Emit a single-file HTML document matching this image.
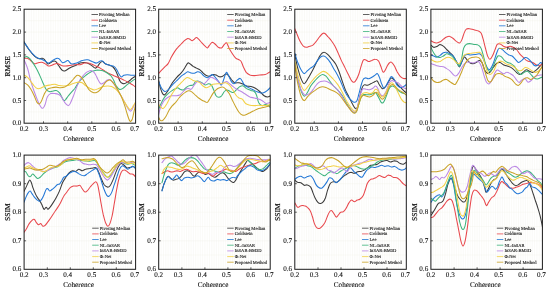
<!DOCTYPE html><html><head><meta charset="utf-8"><title>Figure</title><style>html,body{margin:0;padding:0;background:#fff}svg{display:block}text{font-family:"Liberation Serif",serif;fill:#111;stroke:#111;stroke-width:0.1px;text-rendering:geometricPrecision}</style></head><body>
<svg width="550" height="291" viewBox="0 0 550 291">
<rect width="550" height="291" fill="#fff"/>
<g><clipPath id="cp00"><rect x="24.1" y="9.2" width="111.5" height="114.0"/></clipPath><path d="M26.6,9.2 V123.3 M29.0,9.2 V123.3 M31.4,9.2 V123.3 M33.8,9.2 V123.3 M36.2,9.2 V123.3 M38.7,9.2 V123.3 M41.1,9.2 V123.3 M43.5,9.2 V123.3 M45.9,9.2 V123.3 M48.3,9.2 V123.3 M50.8,9.2 V123.3 M53.2,9.2 V123.3 M55.6,9.2 V123.3 M58.0,9.2 V123.3 M60.4,9.2 V123.3 M62.8,9.2 V123.3 M65.3,9.2 V123.3 M67.7,9.2 V123.3 M70.1,9.2 V123.3 M72.5,9.2 V123.3 M74.9,9.2 V123.3 M77.3,9.2 V123.3 M79.8,9.2 V123.3 M82.2,9.2 V123.3 M84.6,9.2 V123.3 M87.0,9.2 V123.3 M89.4,9.2 V123.3 M91.8,9.2 V123.3 M94.3,9.2 V123.3 M96.7,9.2 V123.3 M99.1,9.2 V123.3 M101.5,9.2 V123.3 M103.9,9.2 V123.3 M106.3,9.2 V123.3 M108.8,9.2 V123.3 M111.2,9.2 V123.3 M113.6,9.2 V123.3 M116.0,9.2 V123.3 M118.4,9.2 V123.3 M120.8,9.2 V123.3 M123.3,9.2 V123.3 M125.7,9.2 V123.3 M128.1,9.2 V123.3 M130.5,9.2 V123.3 M132.9,9.2 V123.3 M24.1,20.7 H135.6 M24.1,32.1 H135.6 M24.1,43.5 H135.6 M24.1,54.9 H135.6 M24.1,66.3 H135.6 M24.1,77.7 H135.6 M24.1,89.1 H135.6 M24.1,100.5 H135.6 M24.1,111.9 H135.6 " stroke="#f3f2ea" stroke-width="0.4" fill="none"/><g clip-path="url(#cp00)" fill="none" stroke-width="1.05" stroke-linejoin="round" stroke-linecap="round"><path d="M23.9,41.9 C24.8,43.2 27.6,47.8 29.4,50.2 C31.2,52.7 33.4,55.0 34.8,56.4 C36.3,57.7 37.1,58.2 38.3,58.5 C39.5,58.9 41.1,58.2 42.1,58.3 C43.1,58.5 43.4,58.5 44.3,59.4 C45.2,60.3 46.7,63.1 47.6,63.8 C48.5,64.4 48.9,63.7 49.8,63.3 C50.7,62.9 52.1,61.6 53.1,61.3 C54.1,61.0 55.0,60.9 55.9,61.6 C56.8,62.3 57.6,64.1 58.6,65.5 C59.6,66.9 60.9,69.1 61.9,70.0 C62.9,70.9 63.3,71.4 64.7,71.0 C66.1,70.6 68.4,68.6 70.2,67.7 C72.0,66.8 74.0,66.2 75.6,65.5 C77.3,64.7 78.5,63.6 80.0,63.1 C81.5,62.7 82.9,62.5 84.4,62.6 C85.8,62.7 87.4,63.0 88.8,63.7 C90.2,64.3 91.6,65.7 92.7,66.4 C93.7,67.1 94.6,68.1 95.4,68.1 C96.2,68.1 96.9,67.2 97.6,66.4 C98.3,65.6 99.0,64.0 99.8,63.1 C100.6,62.3 101.5,61.4 102.5,61.5 C103.4,61.6 104.1,63.0 105.3,63.7 C106.5,64.3 108.4,64.8 109.7,65.3 C110.9,65.9 111.9,66.1 113.0,67.0 C114.0,67.9 114.9,69.3 115.7,70.8 C116.5,72.3 117.2,74.1 117.9,75.8 C118.6,77.5 119.2,79.8 119.9,81.0 C120.6,82.3 121.3,82.8 122.1,83.2 C122.9,83.6 123.6,84.0 124.7,83.6 C125.9,83.3 127.8,81.9 129.1,81.0 C130.4,80.1 131.2,79.0 132.4,78.2 C133.5,77.3 135.5,76.4 136.1,76.0" stroke="#3a3a3a"/><path d="M23.9,58.3 C24.5,58.3 26.2,58.0 27.3,58.3 C28.4,58.7 29.4,59.6 30.6,60.5 C31.8,61.4 33.1,63.4 34.4,63.8 C35.7,64.1 36.9,62.9 38.3,62.7 C39.7,62.5 41.4,62.1 42.7,62.4 C44.0,62.7 45.0,63.8 46.0,64.4 C47.0,65.0 47.6,65.9 48.7,66.0 C49.8,66.0 51.1,65.3 52.5,64.9 C53.9,64.5 55.5,63.4 57.0,63.5 C58.5,63.6 59.9,65.0 61.4,65.5 C62.8,65.9 64.1,66.1 65.8,66.0 C67.4,66.0 69.4,65.5 71.3,65.2 C73.1,65.0 75.3,64.5 76.7,64.4 C78.2,64.3 78.7,65.0 80.0,64.8 C81.3,64.6 83.0,63.4 84.4,63.1 C85.7,62.9 87.0,62.9 88.2,63.1 C89.5,63.3 90.7,63.7 92.1,64.2 C93.5,64.8 95.0,65.7 96.5,66.4 C97.9,67.1 99.4,67.8 100.9,68.6 C102.4,69.5 103.8,70.5 105.3,71.4 C106.8,72.2 108.2,73.0 109.7,73.8 C111.1,74.5 112.6,75.1 114.0,75.8 C115.5,76.4 116.6,76.8 118.2,77.5 C119.8,78.2 121.8,79.1 123.6,79.9 C125.5,80.8 127.6,82.0 129.1,82.8 C130.5,83.6 131.2,83.9 132.4,84.7 C133.5,85.5 135.5,87.1 136.1,87.6" stroke="#e8474c"/><path d="M23.9,41.9 C24.9,43.2 27.6,47.7 29.5,50.0 C31.3,52.4 33.5,54.8 35.0,56.1 C36.5,57.5 37.1,57.8 38.3,58.3 C39.5,58.9 40.8,58.9 42.1,59.4 C43.4,60.0 44.9,61.0 46.0,61.6 C47.1,62.2 47.6,63.2 48.7,63.0 C49.8,62.9 51.2,61.3 52.6,60.5 C53.9,59.7 55.9,58.6 57.0,58.3 C58.1,58.1 58.2,58.1 59.2,58.9 C60.1,59.6 61.4,62.2 62.5,62.7 C63.6,63.1 64.8,62.0 65.8,61.6 C66.7,61.2 67.0,60.1 68.0,60.5 C68.9,60.9 70.0,63.3 71.3,63.8 C72.5,64.2 74.2,63.7 75.6,63.3 C77.1,62.9 78.7,62.0 80.0,61.5 C81.3,60.9 82.0,60.4 83.3,60.2 C84.5,59.9 86.2,59.6 87.6,59.8 C89.1,60.0 90.6,60.9 92.1,61.5 C93.6,62.0 95.1,63.2 96.5,63.1 C97.8,63.0 99.3,61.3 100.3,61.0 C101.3,60.6 101.6,60.5 102.5,61.0 C103.3,61.4 104.1,62.9 105.3,63.7 C106.5,64.4 108.2,64.9 109.7,65.3 C111.1,65.8 112.9,65.7 114.0,66.4 C115.2,67.1 116.0,68.4 116.8,69.7 C117.6,71.0 118.3,72.9 119.0,74.1 C119.7,75.3 120.4,76.7 121.2,76.9 C122.0,77.1 122.9,75.6 123.9,75.2 C124.9,74.8 126.0,74.7 127.2,74.7 C128.5,74.7 130.2,75.1 131.6,75.2 C133.1,75.3 135.3,75.2 136.0,75.2" stroke="#2277d6"/><path d="M24.1,57.6 C24.5,57.5 25.6,56.4 26.6,56.5 C27.5,56.7 28.7,57.6 29.8,58.7 C30.9,59.8 32.0,61.5 33.1,63.1 C34.2,64.7 35.3,66.5 36.4,68.5 C37.5,70.5 38.5,72.7 39.6,75.1 C40.7,77.5 41.8,80.3 42.9,82.7 C44.0,85.1 45.0,88.0 46.2,89.5 C47.3,91.0 48.7,91.4 49.9,91.7 C51.1,91.9 52.1,91.2 53.2,91.0 C54.3,90.8 55.3,90.2 56.4,90.6 C57.5,90.9 58.8,92.1 59.7,93.2 C60.6,94.3 61.2,96.1 61.9,97.3 C62.5,98.5 63.1,100.0 63.6,100.4 C64.2,100.8 64.6,100.5 65.4,99.8 C66.2,99.0 67.3,97.2 68.4,95.8 C69.5,94.5 70.8,92.9 71.9,91.7 C73.0,90.4 73.8,89.8 75.0,88.2 C76.1,86.6 77.7,83.7 78.9,82.1 C80.1,80.4 81.0,79.5 82.2,78.4 C83.4,77.2 84.8,76.2 86.0,75.2 C87.3,74.2 88.5,73.2 89.9,72.5 C91.3,71.7 93.0,71.2 94.3,70.8 C95.6,70.4 96.3,70.1 97.6,70.0 C98.9,70.0 100.5,70.1 102.0,70.5 C103.4,70.9 105.0,71.7 106.4,72.5 C107.8,73.3 109.3,74.5 110.2,75.2 C111.1,76.0 111.2,76.1 111.8,77.0 C112.4,77.9 113.1,79.1 113.8,80.5 C114.5,82.0 115.1,84.1 116.0,85.6 C116.9,87.0 118.2,88.8 119.3,89.3 C120.4,89.8 121.3,89.3 122.5,88.6 C123.8,87.9 125.5,86.1 126.9,84.9 C128.4,83.7 129.7,82.7 131.3,81.6 C132.8,80.5 135.3,78.9 136.1,78.4" stroke="#3cb37c"/><path d="M24.1,59.8 C24.7,61.3 26.5,64.9 27.6,68.5 C28.8,72.2 29.8,77.8 30.9,81.6 C32.0,85.5 33.1,88.4 34.2,91.5 C35.3,94.5 36.4,97.6 37.5,100.2 C38.5,102.7 39.8,105.4 40.7,106.7 C41.6,108.1 42.2,108.6 42.9,108.2 C43.6,107.9 44.4,106.4 45.1,104.5 C45.8,102.7 46.4,98.7 47.3,96.9 C48.2,95.1 49.3,94.2 50.5,93.6 C51.8,93.1 53.6,93.5 54.9,93.6 C56.2,93.7 57.1,93.7 58.2,94.3 C59.3,94.8 60.4,95.6 61.5,96.9 C62.5,98.3 63.6,100.9 64.7,102.4 C65.8,103.8 67.1,105.5 68.0,105.6 C68.9,105.8 69.3,105.1 70.2,103.5 C71.1,101.8 72.4,98.5 73.5,95.8 C74.5,93.1 75.6,89.7 76.7,87.1 C77.8,84.4 79.1,81.6 80.0,79.9 C80.9,78.2 81.4,78.0 82.2,77.0 C83.0,75.9 83.9,74.5 85.0,73.6 C86.0,72.6 87.2,71.9 88.2,71.4 C89.3,70.9 90.1,70.4 91.0,70.5 C91.9,70.7 92.9,71.5 93.8,72.2 C94.6,73.0 95.3,74.1 95.9,75.2 C96.6,76.3 96.9,77.6 97.7,79.0 C98.5,80.5 99.7,83.2 100.7,83.8 C101.8,84.4 102.9,83.4 104.0,82.7 C105.1,82.1 106.2,80.4 107.3,79.9 C108.4,79.4 109.5,79.2 110.5,79.9 C111.6,80.5 112.7,82.3 113.8,83.8 C114.9,85.4 116.0,87.5 117.1,89.3 C118.2,91.1 119.3,92.9 120.4,94.7 C121.5,96.5 122.5,98.2 123.6,100.2 C124.7,102.2 125.8,104.9 126.9,106.7 C128.0,108.5 129.3,110.7 130.2,111.1 C131.1,111.5 131.4,110.5 132.4,108.9 C133.3,107.3 135.5,102.5 136.1,101.3" stroke="#bb88e4"/><path d="M24.1,75.1 C24.7,75.5 26.5,76.2 27.6,77.3 C28.8,78.4 29.8,80.2 30.9,81.6 C32.0,83.1 33.1,84.8 34.2,86.0 C35.3,87.2 36.4,88.3 37.5,88.6 C38.5,89.0 39.5,88.6 40.7,88.2 C42.0,87.7 43.5,86.5 45.1,86.0 C46.7,85.5 48.9,85.2 50.5,84.9 C52.2,84.6 53.5,84.1 54.9,84.2 C56.4,84.4 57.8,85.3 59.3,85.6 C60.7,85.9 62.2,86.0 63.6,86.0 C65.1,86.0 66.5,85.9 68.0,85.6 C69.5,85.2 71.1,84.3 72.4,83.8 C73.6,83.3 74.5,83.0 75.6,82.7 C76.7,82.4 77.8,82.1 78.9,82.1 C80.0,82.1 81.1,82.1 82.2,82.7 C83.3,83.3 84.2,84.7 85.5,85.6 C86.7,86.5 88.4,87.5 89.8,88.2 C91.3,88.9 92.7,89.9 94.2,89.9 C95.6,90.0 97.1,89.2 98.5,88.6 C100.0,88.0 101.5,86.9 102.9,86.4 C104.4,86.0 105.8,86.0 107.3,86.0 C108.7,86.0 110.2,85.9 111.6,86.4 C113.1,87.0 114.5,87.9 116.0,89.3 C117.5,90.7 118.9,92.5 120.4,94.7 C121.8,96.9 123.3,100.0 124.7,102.4 C126.2,104.7 128.0,107.8 129.1,108.9 C130.2,110.0 130.5,109.5 131.3,108.9 C132.0,108.4 132.6,106.9 133.4,105.6 C134.2,104.4 135.6,102.0 136.1,101.3" stroke="#f3d146"/><path d="M24.1,82.7 C24.7,83.1 26.5,83.8 27.6,84.9 C28.8,86.0 29.8,87.5 30.9,89.3 C32.0,91.1 33.2,93.6 34.2,95.8 C35.2,98.0 36.2,101.0 37.0,102.4 C37.9,103.7 38.5,104.1 39.2,103.9 C39.9,103.7 40.6,102.8 41.4,101.3 C42.2,99.7 43.0,96.7 44.0,94.7 C45.0,92.7 46.0,90.4 47.3,89.3 C48.5,88.1 50.2,88.1 51.6,87.8 C53.1,87.4 54.5,87.1 56.0,87.1 C57.5,87.1 58.9,87.8 60.4,87.8 C61.8,87.8 63.3,87.7 64.7,87.1 C66.2,86.4 67.6,85.2 69.1,83.8 C70.5,82.5 72.2,80.4 73.5,79.0 C74.7,77.6 75.8,76.1 76.7,75.5 C77.6,74.9 78.0,75.1 78.9,75.5 C79.8,76.0 81.1,77.0 82.2,78.4 C83.3,79.7 84.4,82.0 85.5,83.8 C86.5,85.6 87.5,87.8 88.7,89.3 C90.0,90.7 91.8,92.0 93.1,92.5 C94.4,93.1 95.3,92.9 96.4,92.5 C97.5,92.2 98.5,91.5 99.6,90.4 C100.7,89.3 101.8,87.5 102.9,86.0 C104.0,84.5 105.1,82.7 106.2,81.6 C107.3,80.6 108.5,80.0 109.5,79.9 C110.4,79.8 110.7,80.4 111.6,81.2 C112.5,82.0 113.8,83.4 114.9,84.9 C116.0,86.4 117.1,88.4 118.2,90.4 C119.3,92.4 120.4,94.4 121.5,96.9 C122.5,99.5 123.6,102.4 124.7,105.6 C125.8,108.9 127.1,113.9 128.0,116.5 C128.9,119.2 129.5,121.0 130.2,121.3 C130.9,121.7 131.6,120.8 132.4,118.7 C133.1,116.7 133.9,111.5 134.6,108.9 C135.2,106.4 135.8,104.4 136.1,103.5" stroke="#c9a227"/></g><rect x="24.1" y="9.2" width="111.5" height="114.0" fill="none" stroke="#1a1a1a" stroke-width="1"/><path d="M43.5,123.3 v-2 M67.7,123.3 v-2 M91.8,123.3 v-2 M116.0,123.3 v-2 M24.1,32.1 h2 M24.1,54.9 h2 M24.1,77.7 h2 M24.1,100.5 h2 " stroke="#1a1a1a" stroke-width="0.7" fill="none"/><text x="24.1" y="131.4" font-size="7.1" text-anchor="middle">0.2</text><text x="43.5" y="131.4" font-size="7.1" text-anchor="middle">0.3</text><text x="67.7" y="131.4" font-size="7.1" text-anchor="middle">0.4</text><text x="91.8" y="131.4" font-size="7.1" text-anchor="middle">0.5</text><text x="116.0" y="131.4" font-size="7.1" text-anchor="middle">0.6</text><text x="134.6" y="131.4" font-size="7.1" text-anchor="middle">0.7</text><text x="21.4" y="11.3" font-size="7.1" text-anchor="end">2.5</text><text x="21.4" y="34.2" font-size="7.1" text-anchor="end">2.0</text><text x="21.4" y="57.0" font-size="7.1" text-anchor="end">1.5</text><text x="21.4" y="79.8" font-size="7.1" text-anchor="end">1.0</text><text x="21.4" y="102.6" font-size="7.1" text-anchor="end">0.5</text><text x="21.4" y="125.4" font-size="7.1" text-anchor="end">0.0</text><text x="78.5" y="141.2" font-size="7.2" text-anchor="middle">Coherence</text><text transform="translate(9.7,66.3) rotate(-90)" font-size="7.5" style="stroke-width:0.2px" text-anchor="middle">RMSE</text><path d="M91.5,14.5 h6.5" stroke="#3a3a3a" stroke-width="0.8"/><text x="99.1" y="16.0" font-size="4.55">Pivoting Median</text><path d="M91.5,20.2 h6.5" stroke="#e8474c" stroke-width="0.8"/><text x="99.1" y="21.7" font-size="4.55">Goldstein</text><path d="M91.5,25.8 h6.5" stroke="#2277d6" stroke-width="0.8"/><text x="99.1" y="27.3" font-size="4.55">Lee</text><path d="M91.5,31.5 h6.5" stroke="#3cb37c" stroke-width="0.8"/><text x="99.1" y="33.0" font-size="4.55">NL-InSAR</text><path d="M91.5,37.2 h6.5" stroke="#bb88e4" stroke-width="0.8"/><text x="99.1" y="38.7" font-size="4.55">InSAR-BM3D</text><path d="M91.5,42.9 h6.5" stroke="#f3d146" stroke-width="0.8"/><text x="99.1" y="44.4" font-size="4.55">Φ-Net</text><path d="M91.5,48.5 h6.5" stroke="#c9a227" stroke-width="0.8"/><text x="99.1" y="50.0" font-size="4.55">Proposed Method</text></g>
<g><clipPath id="cp01"><rect x="158.7" y="9.2" width="111.5" height="114.0"/></clipPath><path d="M161.2,9.2 V123.3 M163.6,9.2 V123.3 M166.0,9.2 V123.3 M168.4,9.2 V123.3 M170.8,9.2 V123.3 M173.3,9.2 V123.3 M175.7,9.2 V123.3 M178.1,9.2 V123.3 M180.5,9.2 V123.3 M182.9,9.2 V123.3 M185.4,9.2 V123.3 M187.8,9.2 V123.3 M190.2,9.2 V123.3 M192.6,9.2 V123.3 M195.0,9.2 V123.3 M197.4,9.2 V123.3 M199.9,9.2 V123.3 M202.3,9.2 V123.3 M204.7,9.2 V123.3 M207.1,9.2 V123.3 M209.5,9.2 V123.3 M211.9,9.2 V123.3 M214.4,9.2 V123.3 M216.8,9.2 V123.3 M219.2,9.2 V123.3 M221.6,9.2 V123.3 M224.0,9.2 V123.3 M226.4,9.2 V123.3 M228.9,9.2 V123.3 M231.3,9.2 V123.3 M233.7,9.2 V123.3 M236.1,9.2 V123.3 M238.5,9.2 V123.3 M240.9,9.2 V123.3 M243.4,9.2 V123.3 M245.8,9.2 V123.3 M248.2,9.2 V123.3 M250.6,9.2 V123.3 M253.0,9.2 V123.3 M255.4,9.2 V123.3 M257.9,9.2 V123.3 M260.3,9.2 V123.3 M262.7,9.2 V123.3 M265.1,9.2 V123.3 M267.5,9.2 V123.3 M158.7,20.7 H270.2 M158.7,32.1 H270.2 M158.7,43.5 H270.2 M158.7,54.9 H270.2 M158.7,66.3 H270.2 M158.7,77.7 H270.2 M158.7,89.1 H270.2 M158.7,100.5 H270.2 M158.7,111.9 H270.2 " stroke="#f3f2ea" stroke-width="0.4" fill="none"/><g clip-path="url(#cp01)" fill="none" stroke-width="1.05" stroke-linejoin="round" stroke-linecap="round"><path d="M158.7,80.5 C159.0,81.8 159.8,86.0 160.4,88.2 C161.1,90.4 161.9,92.5 162.6,93.6 C163.4,94.7 163.9,95.3 164.8,94.7 C165.7,94.2 166.8,92.4 168.1,90.4 C169.4,88.4 171.0,84.9 172.4,82.7 C173.9,80.5 175.4,78.9 176.8,77.3 C178.3,75.6 179.9,74.4 181.2,72.9 C182.5,71.5 183.4,70.2 184.4,68.5 C185.5,66.9 186.8,63.9 187.7,63.1 C188.6,62.3 189.0,63.2 189.9,63.8 C190.8,64.3 192.1,65.6 193.2,66.4 C194.3,67.1 195.4,67.6 196.4,68.1 C197.5,68.7 198.6,68.8 199.7,69.6 C200.8,70.4 201.9,71.9 203.0,72.9 C204.1,73.9 205.2,75.0 206.3,75.5 C207.4,76.1 208.5,76.3 209.6,76.2 C210.6,76.0 211.7,74.8 212.8,74.7 C213.9,74.5 215.0,74.7 216.1,75.1 C217.2,75.5 218.3,76.7 219.4,76.8 C220.5,77.0 221.5,76.7 222.6,76.2 C223.7,75.7 225.0,74.2 225.9,74.0 C226.8,73.8 227.2,74.2 228.1,75.1 C229.0,76.0 230.3,78.2 231.4,79.5 C232.5,80.7 233.4,82.2 234.6,82.7 C235.9,83.3 237.7,82.5 239.0,82.7 C240.3,82.9 241.0,83.3 242.3,83.8 C243.5,84.4 245.2,85.6 246.6,86.0 C248.1,86.4 249.5,86.1 251.0,86.4 C252.5,86.8 253.9,87.3 255.4,88.2 C256.8,89.0 258.3,90.2 259.7,91.5 C261.2,92.7 262.8,94.9 264.1,95.8 C265.4,96.7 266.3,96.9 267.4,96.9 C268.5,96.9 270.1,96.0 270.6,95.8" stroke="#3a3a3a"/><path d="M158.7,73.5 C159.2,72.9 160.5,71.3 161.6,70.2 C162.6,69.1 163.7,68.0 164.8,66.9 C165.9,65.8 167.0,65.3 168.1,63.6 C169.2,62.0 170.3,59.1 171.4,57.1 C172.5,55.1 173.5,53.3 174.6,51.6 C175.7,50.0 176.8,48.5 177.9,47.3 C179.0,46.0 180.1,45.1 181.2,44.0 C182.3,42.9 183.4,41.6 184.4,40.7 C185.5,39.8 186.8,38.8 187.7,38.5 C188.6,38.3 189.2,38.8 189.9,39.2 C190.6,39.6 191.4,40.7 192.1,40.7 C192.8,40.7 193.5,39.7 194.3,39.2 C195.0,38.7 195.7,37.5 196.4,37.5 C197.2,37.5 197.7,38.3 198.6,39.2 C199.5,40.1 200.8,41.7 201.9,42.9 C203.0,44.1 204.3,45.3 205.2,46.2 C206.1,47.0 206.6,48.1 207.4,47.9 C208.1,47.7 208.8,46.0 209.6,45.1 C210.4,44.1 211.3,42.4 212.2,42.2 C213.1,42.1 214.0,43.2 215.0,44.0 C216.0,44.8 217.2,46.6 218.3,47.3 C219.4,47.9 220.5,48.4 221.6,47.9 C222.6,47.5 223.5,45.3 224.4,44.4 C225.2,43.6 225.8,42.3 226.6,42.9 C227.4,43.6 228.2,46.5 229.2,48.4 C230.2,50.2 231.4,52.2 232.4,53.8 C233.5,55.5 234.6,57.2 235.7,58.2 C236.8,59.2 238.1,59.2 239.0,59.7 C239.9,60.3 240.5,60.2 241.2,61.5 C241.9,62.7 242.5,65.1 243.4,66.9 C244.2,68.7 245.1,71.0 246.2,72.4 C247.3,73.7 248.6,74.4 249.9,75.0 C251.3,75.5 252.6,75.6 254.3,75.6 C255.9,75.6 257.9,75.2 259.7,75.0 C261.5,74.8 263.7,74.9 265.2,74.5 C266.6,74.2 267.5,73.3 268.4,72.8 C269.4,72.3 270.3,71.5 270.6,71.3" stroke="#e8474c"/><path d="M158.7,81.6 C159.2,82.7 160.5,86.5 161.6,88.2 C162.6,89.8 163.7,91.2 164.8,91.5 C165.9,91.7 166.8,91.0 168.1,89.9 C169.4,88.8 171.0,86.5 172.4,84.9 C173.9,83.3 175.4,82.0 176.8,80.5 C178.3,79.1 179.9,77.3 181.2,76.2 C182.5,75.1 183.4,74.7 184.4,74.0 C185.5,73.3 186.6,72.0 187.7,71.8 C188.8,71.6 189.9,72.7 191.0,72.9 C192.1,73.2 193.2,73.5 194.3,73.3 C195.4,73.2 196.5,71.9 197.6,71.8 C198.6,71.7 199.7,72.2 200.8,72.9 C201.9,73.6 203.0,75.4 204.1,76.2 C205.2,77.0 206.3,77.8 207.4,77.7 C208.5,77.6 209.7,76.0 210.6,75.5 C211.5,75.0 211.9,74.2 212.8,74.7 C213.7,75.1 215.0,77.0 216.1,78.4 C217.2,79.7 218.5,81.6 219.4,82.7 C220.3,83.8 220.8,85.5 221.6,84.9 C222.3,84.4 222.9,81.5 223.7,79.5 C224.5,77.4 225.5,73.0 226.3,72.5 C227.2,71.9 227.9,74.7 228.8,76.2 C229.6,77.7 230.5,80.4 231.4,81.6 C232.2,82.9 233.1,84.0 234.0,83.8 C234.9,83.6 235.8,81.5 236.8,80.5 C237.8,79.6 239.2,78.3 240.1,78.4 C241.0,78.5 241.5,80.1 242.3,81.2 C243.0,82.3 243.5,83.9 244.4,84.9 C245.4,85.9 246.5,86.4 247.7,87.1 C249.0,87.8 250.6,88.5 252.1,89.3 C253.5,90.0 255.0,90.8 256.4,91.5 C257.9,92.1 259.5,92.8 260.8,93.0 C262.1,93.2 263.0,93.0 264.1,92.5 C265.2,92.1 266.3,91.3 267.4,90.4 C268.5,89.5 270.1,87.6 270.6,87.1" stroke="#2277d6"/><path d="M158.7,108.9 C159.2,107.8 160.5,104.4 161.6,102.4 C162.6,100.4 163.7,98.4 164.8,96.9 C165.9,95.5 166.8,94.7 168.1,93.6 C169.4,92.5 171.2,91.2 172.4,90.4 C173.7,89.5 174.8,89.1 175.7,88.6 C176.6,88.2 177.2,87.6 177.9,87.8 C178.6,87.9 179.2,88.9 180.1,89.3 C181.0,89.6 182.3,90.3 183.4,89.9 C184.5,89.6 185.5,87.8 186.6,87.1 C187.7,86.4 188.8,85.9 189.9,85.6 C191.0,85.2 192.3,85.6 193.2,84.9 C194.1,84.3 194.5,82.3 195.4,81.6 C196.3,81.0 197.5,81.0 198.6,81.2 C199.7,81.4 200.8,82.1 201.9,82.7 C203.0,83.3 204.1,84.7 205.2,84.9 C206.3,85.1 207.4,83.8 208.4,83.8 C209.5,83.8 210.4,83.8 211.3,84.9 C212.2,86.0 213.1,88.5 213.9,90.4 C214.7,92.2 215.3,94.7 216.1,95.8 C216.9,97.0 217.8,97.3 218.7,97.3 C219.6,97.3 220.6,96.8 221.6,95.8 C222.5,94.8 223.5,92.4 224.4,91.5 C225.3,90.5 226.0,89.9 227.0,89.9 C228.0,89.9 229.2,91.0 230.3,91.5 C231.4,91.9 232.5,92.9 233.6,92.5 C234.6,92.2 235.7,90.3 236.8,89.3 C237.9,88.3 239.0,87.0 240.1,86.4 C241.2,85.9 242.3,85.6 243.4,86.0 C244.5,86.4 245.4,87.9 246.6,88.6 C247.9,89.3 249.7,89.9 251.0,90.4 C252.3,90.8 253.4,90.7 254.3,91.5 C255.2,92.2 255.7,92.9 256.4,94.7 C257.2,96.5 257.7,100.5 258.6,102.4 C259.6,104.2 260.8,105.3 261.9,105.6 C263.0,106.0 264.1,104.5 265.2,104.5 C266.3,104.5 267.5,105.1 268.4,105.6 C269.4,106.2 270.3,107.5 270.6,107.8" stroke="#3cb37c"/><path d="M158.7,114.4 C159.0,113.3 159.6,110.0 160.4,107.8 C161.3,105.6 162.6,102.9 163.7,101.3 C164.8,99.6 165.7,98.9 167.0,98.0 C168.3,97.1 169.9,96.2 171.4,95.8 C172.8,95.5 174.3,96.0 175.7,95.8 C177.2,95.6 178.6,95.6 180.1,94.7 C181.5,93.8 183.2,91.5 184.4,90.4 C185.7,89.3 186.6,88.4 187.7,88.2 C188.8,88.0 189.9,89.8 191.0,89.3 C192.1,88.7 193.2,86.3 194.3,84.9 C195.4,83.6 196.5,81.6 197.6,81.2 C198.6,80.8 199.7,82.3 200.8,82.7 C201.9,83.2 203.0,84.2 204.1,83.8 C205.2,83.5 206.3,81.6 207.4,80.5 C208.5,79.5 209.5,77.6 210.6,77.3 C211.7,76.9 212.8,77.8 213.9,78.4 C215.0,78.9 216.1,79.6 217.2,80.5 C218.3,81.5 219.4,83.5 220.4,83.8 C221.5,84.2 222.7,83.1 223.7,82.7 C224.7,82.4 225.7,81.5 226.6,81.6 C227.5,81.7 228.2,82.7 229.2,83.4 C230.2,84.1 231.2,85.0 232.4,86.0 C233.7,87.0 235.4,88.4 236.8,89.3 C238.3,90.2 239.7,90.6 241.2,91.5 C242.6,92.3 244.1,93.4 245.6,94.3 C247.0,95.2 248.5,96.3 249.9,96.9 C251.4,97.5 252.8,97.6 254.3,98.0 C255.7,98.4 257.2,98.5 258.6,99.1 C260.1,99.6 261.7,100.5 263.0,101.3 C264.3,102.0 265.0,103.3 266.3,103.5 C267.5,103.6 269.9,102.5 270.6,102.4" stroke="#bb88e4"/><path d="M158.7,104.5 C159.2,105.1 160.7,107.2 161.6,107.8 C162.4,108.4 162.8,109.0 163.7,108.2 C164.6,107.5 165.9,105.3 167.0,103.5 C168.1,101.6 169.2,98.9 170.3,96.9 C171.4,94.9 172.5,93.1 173.6,91.5 C174.6,89.8 175.7,88.4 176.8,87.1 C177.9,85.8 179.0,84.9 180.1,83.8 C181.2,82.7 182.3,81.6 183.4,80.5 C184.5,79.5 185.5,78.1 186.6,77.7 C187.7,77.3 188.8,77.9 189.9,78.4 C191.0,78.8 192.1,80.1 193.2,80.5 C194.3,81.0 195.4,80.8 196.4,81.2 C197.5,81.6 198.6,81.9 199.7,82.7 C200.8,83.5 201.9,85.2 203.0,86.0 C204.1,86.8 205.2,87.7 206.3,87.8 C207.4,87.8 208.5,87.0 209.6,86.4 C210.6,85.9 211.5,84.7 212.8,84.2 C214.1,83.8 215.7,84.0 217.2,83.8 C218.6,83.7 220.1,83.6 221.6,83.4 C223.0,83.2 224.6,82.5 225.9,82.7 C227.2,83.0 228.1,83.8 229.2,84.9 C230.3,86.0 231.4,87.6 232.4,89.3 C233.5,90.9 234.6,93.3 235.7,94.7 C236.8,96.2 237.9,97.3 239.0,98.0 C240.1,98.7 241.2,98.2 242.3,99.1 C243.4,100.0 244.3,102.4 245.6,103.5 C246.8,104.5 248.5,104.8 249.9,105.2 C251.4,105.6 252.8,105.6 254.3,105.6 C255.7,105.6 257.2,105.2 258.6,105.2 C260.1,105.2 261.5,105.6 263.0,105.6 C264.5,105.6 266.1,105.4 267.4,105.2 C268.6,105.0 270.1,104.7 270.6,104.5" stroke="#f3d146"/><path d="M158.7,117.6 C159.0,118.1 159.8,120.0 160.4,120.5 C161.1,120.9 161.7,121.1 162.6,120.5 C163.5,119.8 164.8,118.3 165.9,116.5 C167.0,114.8 168.1,111.8 169.2,110.0 C170.3,108.2 171.4,106.9 172.4,105.6 C173.5,104.4 174.6,103.6 175.7,102.4 C176.8,101.1 177.9,99.3 179.0,98.0 C180.1,96.7 181.2,95.7 182.3,94.7 C183.4,93.7 184.5,92.8 185.6,92.1 C186.6,91.5 187.7,90.8 188.8,90.8 C189.9,90.8 191.0,91.4 192.1,92.1 C193.2,92.8 194.3,94.2 195.4,95.2 C196.5,96.1 197.5,97.2 198.6,98.0 C199.7,98.8 200.8,99.6 201.9,100.2 C203.0,100.8 204.3,101.3 205.2,101.7 C206.1,102.1 206.6,102.8 207.4,102.4 C208.1,101.9 208.6,100.5 209.6,99.1 C210.5,97.6 211.7,95.2 212.8,93.6 C213.9,92.1 215.0,90.9 216.1,89.9 C217.2,88.9 218.3,88.2 219.4,87.8 C220.5,87.3 221.5,86.8 222.6,87.1 C223.7,87.3 224.8,88.2 225.9,89.3 C227.0,90.4 228.1,91.8 229.2,93.6 C230.3,95.5 231.4,98.0 232.4,100.2 C233.5,102.4 234.6,104.7 235.7,106.7 C236.8,108.7 237.9,110.8 239.0,112.2 C240.1,113.6 241.2,114.6 242.3,115.0 C243.4,115.5 244.5,115.1 245.6,114.8 C246.6,114.5 247.5,113.9 248.8,113.3 C250.1,112.7 251.7,111.8 253.2,111.1 C254.6,110.4 256.1,109.5 257.6,108.9 C259.0,108.4 260.5,108.2 261.9,107.8 C263.4,107.5 264.8,107.1 266.3,106.7 C267.7,106.4 269.9,105.8 270.6,105.6" stroke="#c9a227"/></g><rect x="158.7" y="9.2" width="111.5" height="114.0" fill="none" stroke="#1a1a1a" stroke-width="1"/><path d="M178.1,123.3 v-2 M202.3,123.3 v-2 M226.4,123.3 v-2 M250.6,123.3 v-2 M158.7,32.1 h2 M158.7,54.9 h2 M158.7,77.7 h2 M158.7,100.5 h2 " stroke="#1a1a1a" stroke-width="0.7" fill="none"/><text x="158.7" y="131.4" font-size="7.1" text-anchor="middle">0.2</text><text x="178.1" y="131.4" font-size="7.1" text-anchor="middle">0.3</text><text x="202.3" y="131.4" font-size="7.1" text-anchor="middle">0.4</text><text x="226.4" y="131.4" font-size="7.1" text-anchor="middle">0.5</text><text x="250.6" y="131.4" font-size="7.1" text-anchor="middle">0.6</text><text x="269.2" y="131.4" font-size="7.1" text-anchor="middle">0.7</text><text x="156.0" y="11.3" font-size="7.1" text-anchor="end">2.5</text><text x="156.0" y="34.2" font-size="7.1" text-anchor="end">2.0</text><text x="156.0" y="57.0" font-size="7.1" text-anchor="end">1.5</text><text x="156.0" y="79.8" font-size="7.1" text-anchor="end">1.0</text><text x="156.0" y="102.6" font-size="7.1" text-anchor="end">0.5</text><text x="156.0" y="125.4" font-size="7.1" text-anchor="end">0.0</text><text x="213.1" y="141.2" font-size="7.2" text-anchor="middle">Coherence</text><text transform="translate(144.3,66.3) rotate(-90)" font-size="7.5" style="stroke-width:0.2px" text-anchor="middle">RMSE</text><path d="M227.2,14.5 h6.5" stroke="#3a3a3a" stroke-width="0.8"/><text x="234.8" y="16.0" font-size="4.55">Pivoting Median</text><path d="M227.2,20.2 h6.5" stroke="#e8474c" stroke-width="0.8"/><text x="234.8" y="21.7" font-size="4.55">Goldstein</text><path d="M227.2,25.8 h6.5" stroke="#2277d6" stroke-width="0.8"/><text x="234.8" y="27.3" font-size="4.55">Lee</text><path d="M227.2,31.5 h6.5" stroke="#3cb37c" stroke-width="0.8"/><text x="234.8" y="33.0" font-size="4.55">NL-InSAR</text><path d="M227.2,37.2 h6.5" stroke="#bb88e4" stroke-width="0.8"/><text x="234.8" y="38.7" font-size="4.55">InSAR-BM3D</text><path d="M227.2,42.9 h6.5" stroke="#f3d146" stroke-width="0.8"/><text x="234.8" y="44.4" font-size="4.55">Φ-Net</text><path d="M227.2,48.5 h6.5" stroke="#c9a227" stroke-width="0.8"/><text x="234.8" y="50.0" font-size="4.55">Proposed Method</text></g>
<g><clipPath id="cp02"><rect x="294.8" y="9.2" width="111.5" height="114.0"/></clipPath><path d="M297.3,9.2 V123.3 M299.7,9.2 V123.3 M302.1,9.2 V123.3 M304.5,9.2 V123.3 M306.9,9.2 V123.3 M309.4,9.2 V123.3 M311.8,9.2 V123.3 M314.2,9.2 V123.3 M316.6,9.2 V123.3 M319.0,9.2 V123.3 M321.5,9.2 V123.3 M323.9,9.2 V123.3 M326.3,9.2 V123.3 M328.7,9.2 V123.3 M331.1,9.2 V123.3 M333.5,9.2 V123.3 M336.0,9.2 V123.3 M338.4,9.2 V123.3 M340.8,9.2 V123.3 M343.2,9.2 V123.3 M345.6,9.2 V123.3 M348.0,9.2 V123.3 M350.5,9.2 V123.3 M352.9,9.2 V123.3 M355.3,9.2 V123.3 M357.7,9.2 V123.3 M360.1,9.2 V123.3 M362.5,9.2 V123.3 M365.0,9.2 V123.3 M367.4,9.2 V123.3 M369.8,9.2 V123.3 M372.2,9.2 V123.3 M374.6,9.2 V123.3 M377.0,9.2 V123.3 M379.5,9.2 V123.3 M381.9,9.2 V123.3 M384.3,9.2 V123.3 M386.7,9.2 V123.3 M389.1,9.2 V123.3 M391.5,9.2 V123.3 M394.0,9.2 V123.3 M396.4,9.2 V123.3 M398.8,9.2 V123.3 M401.2,9.2 V123.3 M403.6,9.2 V123.3 M294.8,20.7 H406.3 M294.8,32.1 H406.3 M294.8,43.5 H406.3 M294.8,54.9 H406.3 M294.8,66.3 H406.3 M294.8,77.7 H406.3 M294.8,89.1 H406.3 M294.8,100.5 H406.3 M294.8,111.9 H406.3 " stroke="#f3f2ea" stroke-width="0.4" fill="none"/><g clip-path="url(#cp02)" fill="none" stroke-width="1.05" stroke-linejoin="round" stroke-linecap="round"><path d="M294.8,54.4 C295.3,56.5 296.6,63.5 297.6,67.5 C298.7,71.5 299.8,75.6 300.9,78.4 C302.0,81.1 303.1,83.6 304.2,83.8 C305.3,84.0 306.2,81.5 307.4,79.5 C308.7,77.5 310.4,74.5 311.8,71.8 C313.3,69.1 314.7,65.9 316.2,63.1 C317.6,60.3 319.3,56.6 320.6,54.8 C321.8,53.0 322.7,52.3 323.8,52.2 C324.9,52.0 325.8,52.8 327.1,53.9 C328.4,55.0 330.0,57.0 331.4,58.7 C332.9,60.4 334.5,62.0 335.8,64.2 C337.1,66.4 338.0,68.9 339.1,71.8 C340.2,74.7 341.3,78.5 342.4,81.6 C343.5,84.7 344.5,87.8 345.6,90.4 C346.7,92.9 347.8,94.7 348.9,96.9 C350.0,99.1 351.1,101.5 352.2,103.5 C353.3,105.4 354.5,107.9 355.4,108.5 C356.4,109.0 356.9,108.7 357.6,106.7 C358.4,104.8 359.1,100.0 359.8,96.9 C360.5,93.8 361.3,90.2 362.0,88.2 C362.7,86.2 363.3,85.4 364.2,84.9 C365.1,84.4 366.4,85.5 367.4,85.3 C368.5,85.2 369.5,84.4 370.7,83.8 C372.0,83.2 374.0,82.1 375.1,81.6 C376.2,81.2 376.5,80.4 377.3,81.0 C378.0,81.5 378.5,83.6 379.4,84.9 C380.4,86.2 381.6,88.7 382.7,88.8 C383.8,89.0 384.9,87.4 386.0,86.0 C387.1,84.6 388.4,81.9 389.3,80.5 C390.2,79.2 390.5,77.9 391.4,77.9 C392.4,77.9 393.6,79.4 394.7,80.5 C395.8,81.7 396.9,83.6 398.0,84.9 C399.1,86.2 400.2,87.1 401.3,88.2 C402.4,89.3 403.6,90.6 404.6,91.5 C405.5,92.3 406.4,92.9 406.7,93.2" stroke="#3a3a3a"/><path d="M294.8,28.7 C295.1,29.5 295.7,31.1 296.6,33.1 C297.4,35.1 298.7,38.6 299.8,40.7 C300.9,42.8 302.0,44.7 303.1,45.8 C304.2,46.8 305.3,47.2 306.4,47.3 C307.5,47.3 308.5,46.5 309.6,46.2 C310.7,45.8 311.8,45.9 312.9,45.1 C314.0,44.3 315.1,42.7 316.2,41.4 C317.3,40.0 318.4,38.3 319.4,37.0 C320.5,35.7 321.8,34.1 322.7,33.5 C323.6,32.9 324.0,32.9 324.9,33.5 C325.8,34.1 327.1,35.8 328.2,37.0 C329.3,38.2 330.4,39.3 331.4,40.7 C332.5,42.2 333.6,43.8 334.7,45.8 C335.8,47.8 336.9,50.3 338.0,52.7 C339.1,55.2 340.2,58.0 341.3,60.4 C342.4,62.7 343.5,64.7 344.6,66.9 C345.6,69.1 346.7,71.3 347.8,73.5 C348.9,75.6 350.2,78.5 351.1,80.0 C352.0,81.5 352.5,82.0 353.3,82.2 C354.0,82.4 354.5,82.4 355.4,81.1 C356.4,79.8 357.8,76.9 358.7,74.5 C359.6,72.2 360.2,69.3 360.9,66.9 C361.6,64.5 362.4,61.6 363.1,60.4 C363.8,59.2 364.4,59.5 365.3,59.7 C366.2,59.9 367.5,61.3 368.6,61.5 C369.6,61.6 370.7,60.7 371.8,60.4 C372.9,60.0 374.0,59.2 375.1,59.3 C376.2,59.3 377.4,59.6 378.4,60.8 C379.3,62.0 380.0,64.4 380.8,66.2 C381.5,68.1 382.3,71.2 382.9,71.9 C383.6,72.7 384.2,71.6 384.9,70.6 C385.6,69.7 386.4,67.5 387.1,66.2 C387.8,65.0 388.5,63.7 389.3,63.0 C390.0,62.3 390.6,61.6 391.4,62.1 C392.3,62.6 393.4,64.3 394.3,65.8 C395.2,67.3 395.9,69.5 396.9,71.3 C397.9,73.0 399.1,75.1 400.2,76.3 C401.3,77.5 402.4,78.1 403.4,78.5 C404.5,78.8 406.2,78.5 406.7,78.5" stroke="#e8474c"/><path d="M294.8,53.3 C295.3,54.7 296.6,59.3 297.6,62.0 C298.7,64.7 299.8,67.7 300.9,69.6 C302.0,71.6 303.1,73.4 304.2,73.6 C305.3,73.7 306.4,71.7 307.4,70.7 C308.5,69.8 309.6,68.7 310.7,67.9 C311.8,67.1 312.9,66.9 314.0,65.7 C315.1,64.5 316.2,62.4 317.3,60.9 C318.4,59.5 319.5,57.8 320.6,57.0 C321.6,56.2 322.7,55.9 323.8,56.1 C324.9,56.3 326.0,57.2 327.1,58.3 C328.2,59.4 329.3,60.9 330.4,62.6 C331.5,64.4 332.5,66.7 333.6,68.5 C334.7,70.4 335.8,72.0 336.9,74.0 C338.0,76.0 339.1,78.2 340.2,80.5 C341.3,82.9 342.4,85.8 343.4,88.2 C344.5,90.5 345.6,92.9 346.7,94.7 C347.8,96.5 348.9,97.9 350.0,99.1 C351.1,100.3 352.2,101.6 353.3,101.9 C354.4,102.3 355.6,102.5 356.6,101.3 C357.5,100.1 358.0,97.3 358.7,94.7 C359.5,92.2 360.2,88.5 360.9,86.0 C361.6,83.5 362.4,80.8 363.1,79.5 C363.8,78.1 364.4,78.0 365.3,77.9 C366.2,77.8 367.5,78.9 368.6,78.8 C369.6,78.7 370.7,77.9 371.8,77.3 C372.9,76.7 374.2,75.7 375.1,75.1 C376.0,74.5 376.5,73.2 377.3,73.6 C378.0,73.9 378.7,75.6 379.4,77.3 C380.2,79.0 380.9,82.0 381.6,83.8 C382.4,85.6 383.1,87.8 383.8,88.2 C384.5,88.5 385.1,87.5 386.0,86.0 C386.9,84.5 388.4,81.0 389.3,79.5 C390.2,77.9 390.6,76.6 391.4,76.6 C392.3,76.6 393.4,78.1 394.3,79.5 C395.2,80.8 395.9,83.6 396.9,84.9 C397.9,86.3 399.1,87.2 400.2,87.5 C401.3,87.8 402.4,87.2 403.4,86.7 C404.5,86.1 406.2,84.5 406.7,84.0" stroke="#2277d6"/><path d="M294.8,63.1 C295.3,65.6 296.6,73.8 297.6,78.4 C298.7,82.9 299.8,87.4 300.9,90.4 C302.0,93.3 303.1,95.9 304.2,96.2 C305.3,96.6 306.4,94.3 307.4,92.5 C308.5,90.8 309.5,88.0 310.7,86.0 C312.0,84.0 313.6,82.2 315.1,80.5 C316.5,78.9 318.2,77.2 319.4,76.2 C320.7,75.2 321.6,74.4 322.7,74.4 C323.8,74.4 324.9,75.2 326.0,76.2 C327.1,77.2 328.0,78.9 329.3,80.5 C330.5,82.2 332.2,84.4 333.6,86.0 C335.1,87.6 336.5,88.7 338.0,90.4 C339.5,92.0 340.9,93.6 342.4,95.8 C343.8,98.0 345.3,101.1 346.7,103.5 C348.2,105.8 349.8,108.4 351.1,110.0 C352.4,111.6 353.4,112.7 354.4,112.8 C355.3,113.0 355.8,112.5 356.6,111.1 C357.3,109.7 358.0,106.8 358.7,104.5 C359.5,102.3 360.2,99.2 360.9,97.6 C361.6,95.9 362.2,95.2 363.1,94.7 C364.0,94.3 365.3,94.7 366.4,94.7 C367.5,94.7 368.5,94.9 369.6,94.7 C370.7,94.5 371.9,94.0 372.9,93.6 C373.9,93.3 374.6,92.0 375.5,92.5 C376.4,93.1 377.4,95.3 378.4,96.9 C379.3,98.5 380.4,101.5 381.2,102.4 C382.0,103.3 382.6,103.3 383.4,102.4 C384.2,101.5 385.0,99.3 386.0,96.9 C387.0,94.5 388.3,90.0 389.3,88.2 C390.3,86.4 391.2,86.2 392.1,86.0 C393.0,85.8 393.7,86.4 394.7,87.1 C395.7,87.8 396.9,89.5 398.0,90.4 C399.1,91.3 400.2,92.0 401.3,92.5 C402.4,93.1 403.6,93.2 404.6,93.6 C405.5,94.1 406.4,95.1 406.7,95.4" stroke="#3cb37c"/><path d="M294.8,64.2 C295.3,66.5 296.6,74.2 297.6,78.4 C298.7,82.5 299.8,86.5 300.9,89.3 C302.0,92.0 303.1,93.8 304.2,94.7 C305.3,95.6 306.4,95.1 307.4,94.7 C308.5,94.4 309.6,93.6 310.7,92.5 C311.8,91.5 312.9,89.6 314.0,88.2 C315.1,86.7 316.2,84.9 317.3,83.8 C318.4,82.7 319.3,82.1 320.6,81.6 C321.8,81.2 323.5,80.8 324.9,81.0 C326.4,81.2 327.8,81.9 329.3,82.7 C330.7,83.6 332.2,84.7 333.6,86.0 C335.1,87.3 336.5,88.5 338.0,90.4 C339.5,92.2 340.9,94.5 342.4,96.9 C343.8,99.3 345.3,102.4 346.7,104.5 C348.2,106.7 349.8,108.7 351.1,110.0 C352.4,111.3 353.4,112.2 354.4,112.2 C355.3,112.2 355.8,111.8 356.6,110.0 C357.3,108.2 358.0,104.2 358.7,101.3 C359.5,98.4 360.2,94.6 360.9,92.5 C361.6,90.5 362.2,89.4 363.1,88.8 C364.0,88.3 365.3,89.1 366.4,89.3 C367.5,89.4 368.5,89.9 369.6,89.7 C370.7,89.5 371.9,88.8 372.9,88.2 C373.9,87.6 374.7,86.0 375.5,86.0 C376.3,86.0 377.0,86.9 377.7,88.2 C378.4,89.5 379.1,92.4 379.9,93.6 C380.7,94.9 381.7,96.2 382.7,95.8 C383.7,95.5 384.9,93.6 386.0,91.5 C387.1,89.3 388.3,84.5 389.3,82.7 C390.3,80.9 391.2,80.7 392.1,80.5 C393.0,80.4 393.7,81.3 394.7,81.6 C395.7,82.0 396.9,82.0 398.0,82.7 C399.1,83.5 400.2,85.1 401.3,86.0 C402.4,86.9 403.6,87.7 404.6,88.2 C405.5,88.6 406.4,88.5 406.7,88.6" stroke="#bb88e4"/><path d="M294.8,60.9 C295.3,63.1 296.6,70.0 297.6,74.0 C298.7,78.0 299.8,82.2 300.9,84.9 C302.0,87.6 303.1,90.0 304.2,90.4 C305.3,90.7 306.4,88.4 307.4,87.1 C308.5,85.8 309.5,84.4 310.7,82.7 C312.0,81.1 313.6,78.8 315.1,77.3 C316.5,75.7 318.2,74.5 319.4,73.6 C320.7,72.6 321.6,71.6 322.7,71.4 C323.8,71.2 324.9,71.6 326.0,72.2 C327.1,72.9 328.0,73.9 329.3,75.1 C330.5,76.3 332.2,77.8 333.6,79.5 C335.1,81.1 336.5,82.7 338.0,84.9 C339.5,87.1 340.9,89.8 342.4,92.5 C343.8,95.3 345.3,98.7 346.7,101.3 C348.2,103.8 349.8,106.2 351.1,107.8 C352.4,109.5 353.4,110.7 354.4,111.1 C355.3,111.5 355.8,111.3 356.6,110.0 C357.3,108.7 358.0,105.8 358.7,103.5 C359.5,101.1 360.2,97.5 360.9,95.8 C361.6,94.1 362.2,93.7 363.1,93.2 C364.0,92.7 365.3,92.5 366.4,92.5 C367.5,92.6 368.5,93.6 369.6,93.6 C370.7,93.6 371.9,93.3 372.9,92.5 C373.9,91.8 374.7,89.6 375.5,89.3 C376.3,88.9 377.0,89.5 377.7,90.4 C378.4,91.3 379.1,93.6 379.9,94.7 C380.7,95.8 381.7,97.3 382.7,96.9 C383.7,96.5 384.9,94.5 386.0,92.5 C387.1,90.5 388.3,86.5 389.3,84.9 C390.3,83.3 391.2,82.5 392.1,82.7 C393.0,82.9 393.7,84.4 394.7,86.0 C395.7,87.6 396.9,90.4 398.0,92.5 C399.1,94.7 400.2,97.5 401.3,99.1 C402.4,100.7 403.6,101.8 404.6,102.4 C405.5,102.9 406.4,102.4 406.7,102.4" stroke="#f3d146"/><path d="M294.8,65.3 C295.3,68.2 296.6,77.6 297.6,82.7 C298.7,87.8 299.8,92.8 300.9,95.8 C302.0,98.8 303.1,100.4 304.2,100.6 C305.3,100.8 306.4,98.1 307.4,96.9 C308.5,95.7 309.5,94.7 310.7,93.6 C312.0,92.5 313.6,91.4 315.1,90.4 C316.5,89.3 318.2,88.1 319.4,87.5 C320.7,86.9 321.6,86.7 322.7,86.7 C323.8,86.7 324.7,87.0 326.0,87.5 C327.3,88.0 328.9,89.1 330.4,89.7 C331.8,90.4 333.3,90.6 334.7,91.5 C336.2,92.3 337.6,93.3 339.1,94.7 C340.5,96.2 342.0,98.3 343.4,100.2 C344.9,102.1 346.5,104.5 347.8,106.3 C349.1,108.0 350.0,109.5 351.1,110.7 C352.2,111.8 353.4,113.1 354.4,113.3 C355.3,113.4 355.8,113.0 356.6,111.5 C357.3,110.1 358.0,106.8 358.7,104.5 C359.5,102.3 360.2,99.5 360.9,98.0 C361.6,96.5 362.2,95.7 363.1,95.4 C364.0,95.1 365.3,96.0 366.4,96.2 C367.5,96.5 368.5,97.1 369.6,96.9 C370.7,96.8 371.9,96.1 372.9,95.4 C373.9,94.7 374.7,92.9 375.5,92.5 C376.3,92.2 377.0,92.5 377.7,93.2 C378.4,93.9 379.1,95.9 379.9,96.9 C380.7,97.9 381.7,99.5 382.7,99.1 C383.7,98.7 384.9,96.7 386.0,94.7 C387.1,92.7 388.3,88.8 389.3,87.1 C390.3,85.4 391.2,84.7 392.1,84.5 C393.0,84.3 393.7,85.2 394.7,86.0 C395.7,86.8 396.9,88.4 398.0,89.3 C399.1,90.2 400.2,90.7 401.3,91.5 C402.4,92.2 403.6,93.0 404.6,93.6 C405.5,94.3 406.4,95.1 406.7,95.4" stroke="#c9a227"/></g><rect x="294.8" y="9.2" width="111.5" height="114.0" fill="none" stroke="#1a1a1a" stroke-width="1"/><path d="M314.2,123.3 v-2 M338.4,123.3 v-2 M362.5,123.3 v-2 M386.7,123.3 v-2 M294.8,32.1 h2 M294.8,54.9 h2 M294.8,77.7 h2 M294.8,100.5 h2 " stroke="#1a1a1a" stroke-width="0.7" fill="none"/><text x="294.8" y="131.4" font-size="7.1" text-anchor="middle">0.2</text><text x="314.2" y="131.4" font-size="7.1" text-anchor="middle">0.3</text><text x="338.4" y="131.4" font-size="7.1" text-anchor="middle">0.4</text><text x="362.5" y="131.4" font-size="7.1" text-anchor="middle">0.5</text><text x="386.7" y="131.4" font-size="7.1" text-anchor="middle">0.6</text><text x="405.3" y="131.4" font-size="7.1" text-anchor="middle">0.7</text><text x="292.1" y="11.3" font-size="7.1" text-anchor="end">2.5</text><text x="292.1" y="34.2" font-size="7.1" text-anchor="end">2.0</text><text x="292.1" y="57.0" font-size="7.1" text-anchor="end">1.5</text><text x="292.1" y="79.8" font-size="7.1" text-anchor="end">1.0</text><text x="292.1" y="102.6" font-size="7.1" text-anchor="end">0.5</text><text x="292.1" y="125.4" font-size="7.1" text-anchor="end">0.0</text><text x="349.2" y="141.2" font-size="7.2" text-anchor="middle">Coherence</text><text transform="translate(280.4,66.3) rotate(-90)" font-size="7.5" style="stroke-width:0.2px" text-anchor="middle">RMSE</text><path d="M363.0,14.5 h6.5" stroke="#3a3a3a" stroke-width="0.8"/><text x="370.6" y="16.0" font-size="4.55">Pivoting Median</text><path d="M363.0,20.2 h6.5" stroke="#e8474c" stroke-width="0.8"/><text x="370.6" y="21.7" font-size="4.55">Goldstein</text><path d="M363.0,25.8 h6.5" stroke="#2277d6" stroke-width="0.8"/><text x="370.6" y="27.3" font-size="4.55">Lee</text><path d="M363.0,31.5 h6.5" stroke="#3cb37c" stroke-width="0.8"/><text x="370.6" y="33.0" font-size="4.55">NL-InSAR</text><path d="M363.0,37.2 h6.5" stroke="#bb88e4" stroke-width="0.8"/><text x="370.6" y="38.7" font-size="4.55">InSAR-BM3D</text><path d="M363.0,42.9 h6.5" stroke="#f3d146" stroke-width="0.8"/><text x="370.6" y="44.4" font-size="4.55">Φ-Net</text><path d="M363.0,48.5 h6.5" stroke="#c9a227" stroke-width="0.8"/><text x="370.6" y="50.0" font-size="4.55">Proposed Method</text></g>
<g><clipPath id="cp03"><rect x="430.9" y="9.2" width="111.5" height="114.0"/></clipPath><path d="M433.4,9.2 V123.3 M435.8,9.2 V123.3 M438.2,9.2 V123.3 M440.6,9.2 V123.3 M443.0,9.2 V123.3 M445.5,9.2 V123.3 M447.9,9.2 V123.3 M450.3,9.2 V123.3 M452.7,9.2 V123.3 M455.1,9.2 V123.3 M457.6,9.2 V123.3 M460.0,9.2 V123.3 M462.4,9.2 V123.3 M464.8,9.2 V123.3 M467.2,9.2 V123.3 M469.6,9.2 V123.3 M472.1,9.2 V123.3 M474.5,9.2 V123.3 M476.9,9.2 V123.3 M479.3,9.2 V123.3 M481.7,9.2 V123.3 M484.1,9.2 V123.3 M486.6,9.2 V123.3 M489.0,9.2 V123.3 M491.4,9.2 V123.3 M493.8,9.2 V123.3 M496.2,9.2 V123.3 M498.6,9.2 V123.3 M501.1,9.2 V123.3 M503.5,9.2 V123.3 M505.9,9.2 V123.3 M508.3,9.2 V123.3 M510.7,9.2 V123.3 M513.1,9.2 V123.3 M515.6,9.2 V123.3 M518.0,9.2 V123.3 M520.4,9.2 V123.3 M522.8,9.2 V123.3 M525.2,9.2 V123.3 M527.6,9.2 V123.3 M530.1,9.2 V123.3 M532.5,9.2 V123.3 M534.9,9.2 V123.3 M537.3,9.2 V123.3 M539.7,9.2 V123.3 M430.9,20.7 H542.4 M430.9,32.1 H542.4 M430.9,43.5 H542.4 M430.9,54.9 H542.4 M430.9,66.3 H542.4 M430.9,77.7 H542.4 M430.9,89.1 H542.4 M430.9,100.5 H542.4 M430.9,111.9 H542.4 " stroke="#f3f2ea" stroke-width="0.4" fill="none"/><g clip-path="url(#cp03)" fill="none" stroke-width="1.05" stroke-linejoin="round" stroke-linecap="round"><path d="M430.9,45.1 C431.4,45.5 432.6,47.0 433.6,47.3 C434.5,47.5 435.7,47.1 436.8,46.6 C437.9,46.1 439.0,44.5 440.1,44.4 C441.2,44.4 442.3,45.3 443.4,46.2 C444.5,47.0 445.5,48.4 446.6,49.5 C447.7,50.5 448.8,51.6 449.9,52.7 C451.0,53.8 452.1,54.5 453.2,56.0 C454.3,57.5 455.4,59.6 456.4,61.5 C457.5,63.3 458.5,66.7 459.3,66.9 C460.1,67.1 460.7,64.2 461.5,62.5 C462.3,60.9 463.3,57.7 464.1,57.1 C464.9,56.5 465.4,57.9 466.3,58.8 C467.2,59.8 468.5,61.8 469.6,62.5 C470.6,63.3 471.7,63.6 472.8,63.6 C473.9,63.6 475.0,63.1 476.1,62.5 C477.2,62.0 478.4,60.4 479.4,60.4 C480.3,60.4 481.1,60.9 482.0,62.5 C482.9,64.2 483.9,68.4 484.8,70.2 C485.8,72.0 486.7,73.2 487.6,73.5 C488.6,73.7 489.3,73.0 490.3,71.9 C491.3,70.8 492.5,68.4 493.6,66.9 C494.6,65.5 495.7,63.9 496.8,63.2 C497.9,62.5 499.0,62.3 500.1,62.5 C501.2,62.8 502.3,64.2 503.4,64.7 C504.5,65.3 505.5,65.5 506.6,65.8 C507.7,66.2 508.8,66.4 509.9,66.9 C511.0,67.5 512.1,68.2 513.2,69.1 C514.3,70.0 515.4,71.5 516.5,72.4 C517.5,73.3 518.6,74.5 519.7,74.5 C520.8,74.5 521.9,73.2 523.0,72.4 C524.1,71.6 525.2,69.9 526.3,69.8 C527.4,69.6 528.5,70.8 529.5,71.3 C530.6,71.7 531.7,72.5 532.8,72.4 C533.9,72.2 535.0,71.1 536.1,70.2 C537.2,69.3 538.3,68.0 539.4,66.9 C540.4,65.8 541.9,64.2 542.4,63.6" stroke="#3a3a3a"/><path d="M430.9,40.7 C431.4,41.0 432.6,41.9 433.6,42.2 C434.5,42.6 435.7,43.0 436.8,42.9 C437.9,42.8 439.0,42.4 440.1,41.8 C441.2,41.2 442.3,40.0 443.4,39.2 C444.5,38.4 445.5,37.5 446.6,37.0 C447.7,36.5 448.8,36.1 449.9,36.4 C451.0,36.6 452.1,37.7 453.2,38.5 C454.3,39.4 455.4,40.7 456.4,41.4 C457.5,42.1 458.8,43.2 459.7,42.9 C460.6,42.6 461.2,41.3 461.9,39.6 C462.6,38.0 463.4,34.8 464.1,33.1 C464.8,31.3 465.4,29.9 466.3,29.2 C467.2,28.4 468.3,28.6 469.6,28.7 C470.8,28.8 472.5,29.5 473.9,29.8 C475.4,30.2 477.1,30.4 478.3,30.9 C479.5,31.5 480.3,31.6 481.1,33.1 C481.9,34.5 482.6,37.1 483.3,39.6 C484.0,42.2 484.7,45.6 485.5,48.4 C486.2,51.1 486.9,54.2 487.6,56.0 C488.4,57.8 489.0,59.3 489.8,59.3 C490.6,59.3 491.6,57.6 492.4,56.0 C493.3,54.4 494.3,51.4 495.1,49.5 C495.9,47.5 496.4,45.3 497.2,44.4 C498.1,43.5 499.1,43.7 500.1,44.0 C501.1,44.3 502.3,45.6 503.4,46.2 C504.5,46.7 505.5,47.3 506.6,47.3 C507.7,47.3 508.8,46.2 509.9,46.2 C511.0,46.2 512.1,46.7 513.2,47.3 C514.3,47.8 515.4,48.4 516.5,49.5 C517.5,50.5 518.6,52.5 519.7,53.8 C520.8,55.1 521.9,56.0 523.0,57.1 C524.1,58.2 525.2,59.6 526.3,60.4 C527.4,61.1 528.5,61.1 529.5,61.5 C530.6,61.8 531.7,62.0 532.8,62.5 C533.9,63.1 535.0,64.2 536.1,64.7 C537.2,65.3 538.3,66.0 539.4,65.8 C540.4,65.6 541.9,64.0 542.4,63.6" stroke="#e8474c"/><path d="M430.9,54.9 C431.4,55.1 432.6,55.6 433.6,56.0 C434.5,56.4 435.7,57.2 436.8,57.1 C437.9,57.0 439.0,56.1 440.1,55.4 C441.2,54.6 442.3,53.2 443.4,52.7 C444.5,52.2 445.5,52.1 446.6,52.3 C447.7,52.5 448.8,53.2 449.9,53.8 C451.0,54.4 452.1,54.7 453.2,56.0 C454.3,57.3 455.4,59.7 456.4,61.5 C457.5,63.2 458.5,66.1 459.3,66.2 C460.1,66.4 460.7,64.3 461.5,62.5 C462.3,60.8 463.1,57.3 464.1,56.0 C465.1,54.7 466.3,54.7 467.4,54.5 C468.5,54.3 469.4,54.9 470.6,54.9 C471.9,54.9 473.5,54.7 475.0,54.5 C476.5,54.3 478.2,53.6 479.4,53.8 C480.5,54.1 481.1,54.5 482.0,56.0 C482.9,57.5 483.9,60.5 484.8,62.5 C485.8,64.6 486.7,67.3 487.6,68.4 C488.6,69.5 489.3,70.1 490.3,69.1 C491.3,68.1 492.5,65.3 493.6,62.5 C494.6,59.8 495.9,55.1 496.8,52.7 C497.7,50.4 498.1,48.9 499.0,48.4 C499.9,47.8 501.2,48.7 502.3,49.5 C503.4,50.2 504.5,51.8 505.6,52.7 C506.6,53.6 507.7,54.4 508.8,54.9 C509.9,55.5 511.0,55.3 512.1,56.0 C513.2,56.7 514.3,58.2 515.4,59.3 C516.5,60.4 517.5,62.4 518.6,62.5 C519.7,62.7 520.8,61.2 521.9,60.4 C523.0,59.5 524.1,57.8 525.2,57.5 C526.3,57.3 527.4,58.0 528.5,58.8 C529.5,59.7 530.6,61.4 531.7,62.5 C532.8,63.7 533.9,65.5 535.0,65.8 C536.1,66.2 537.4,65.3 538.3,64.7 C539.2,64.2 539.8,62.7 540.5,62.5 C541.1,62.4 542.1,63.5 542.4,63.6" stroke="#2277d6"/><path d="M430.9,47.3 C431.4,48.2 432.6,51.2 433.6,52.7 C434.5,54.3 435.7,55.8 436.8,56.6 C437.9,57.5 439.0,57.6 440.1,57.5 C441.2,57.4 442.3,56.6 443.4,56.0 C444.5,55.4 445.5,54.0 446.6,53.8 C447.7,53.6 448.8,54.3 449.9,54.9 C451.0,55.5 452.1,56.3 453.2,57.5 C454.3,58.8 455.4,61.2 456.4,62.5 C457.5,63.9 458.5,66.4 459.3,65.8 C460.1,65.3 460.7,62.2 461.5,59.3 C462.2,56.4 462.8,50.8 463.6,48.4 C464.4,45.9 465.3,45.2 466.3,44.4 C467.3,43.6 468.3,43.6 469.6,43.6 C470.8,43.6 472.5,44.2 473.9,44.4 C475.4,44.7 477.1,44.4 478.3,45.1 C479.5,45.7 480.2,46.4 481.1,48.4 C482.0,50.4 482.9,54.0 483.7,57.1 C484.6,60.2 485.4,64.5 486.4,66.9 C487.3,69.3 488.2,70.9 489.2,71.3 C490.1,71.6 491.0,70.7 492.0,69.1 C493.0,67.5 494.1,63.6 495.1,61.5 C496.1,59.3 496.9,56.8 497.9,56.0 C498.9,55.2 500.1,55.9 501.2,56.6 C502.3,57.4 503.4,59.4 504.4,60.4 C505.5,61.3 506.6,62.0 507.7,62.5 C508.8,63.1 509.9,63.0 511.0,63.6 C512.1,64.3 513.2,65.0 514.3,66.2 C515.4,67.5 516.5,69.9 517.5,71.3 C518.6,72.7 519.7,74.4 520.8,74.5 C521.9,74.7 523.0,72.9 524.1,72.4 C525.2,71.8 526.3,71.0 527.4,71.3 C528.5,71.6 529.5,73.0 530.6,74.1 C531.7,75.2 532.8,77.0 533.9,77.8 C535.0,78.6 536.1,78.9 537.2,78.9 C538.3,78.9 539.6,78.2 540.5,77.8 C541.3,77.5 542.1,76.9 542.4,76.7" stroke="#3cb37c"/><path d="M430.9,63.5 C431.4,63.7 432.6,64.3 433.6,64.6 C434.5,65.0 435.7,65.4 436.8,65.7 C437.9,66.0 439.0,66.2 440.1,66.4 C441.2,66.6 442.3,66.5 443.4,66.8 C444.5,67.2 445.5,67.9 446.6,68.6 C447.7,69.2 448.8,69.8 449.9,70.8 C451.0,71.7 452.2,73.6 453.2,74.5 C454.2,75.3 454.9,76.2 455.8,76.0 C456.7,75.8 457.7,74.7 458.6,73.4 C459.6,72.0 460.6,69.4 461.5,67.9 C462.4,66.4 463.1,65.2 464.1,64.2 C465.1,63.2 466.3,62.3 467.4,62.0 C468.5,61.7 469.5,62.3 470.6,62.5 C471.7,62.6 472.6,63.1 473.9,62.9 C475.2,62.7 477.1,60.9 478.3,61.4 C479.5,61.8 480.2,63.5 481.1,65.7 C482.0,67.9 482.9,71.7 483.7,74.5 C484.6,77.2 485.4,80.5 486.4,82.1 C487.3,83.7 488.2,84.2 489.2,83.8 C490.1,83.5 491.1,81.7 492.0,79.9 C492.9,78.2 493.8,75.0 494.6,73.4 C495.5,71.7 496.3,70.4 497.2,70.1 C498.2,69.8 499.1,71.0 500.1,71.6 C501.1,72.2 502.3,73.7 503.4,73.8 C504.5,73.9 505.5,72.3 506.6,72.3 C507.7,72.2 508.8,72.8 509.9,73.4 C511.0,73.9 512.1,74.5 513.2,75.5 C514.3,76.6 515.5,78.7 516.5,79.9 C517.4,81.1 518.2,82.5 519.1,82.5 C520.0,82.5 520.9,80.5 521.9,79.9 C522.9,79.3 524.2,78.5 525.2,78.8 C526.2,79.2 526.9,81.7 527.8,82.1 C528.7,82.5 529.6,81.7 530.6,81.0 C531.7,80.3 532.8,78.6 533.9,77.7 C535.0,76.8 536.2,76.0 537.2,75.5 C538.2,75.1 539.1,75.2 540.0,75.1 C540.9,75.0 542.0,75.1 542.4,75.1" stroke="#bb88e4"/><path d="M430.9,59.3 C431.4,59.6 432.6,60.6 433.6,61.0 C434.5,61.5 435.7,61.8 436.8,61.9 C437.9,62.0 439.0,61.9 440.1,61.5 C441.2,61.0 442.3,59.9 443.4,59.3 C444.5,58.6 445.5,57.8 446.6,57.5 C447.7,57.2 448.8,57.2 449.9,57.5 C451.0,57.8 452.1,58.4 453.2,59.3 C454.3,60.1 455.4,61.8 456.4,62.5 C457.5,63.3 458.4,64.2 459.3,63.6 C460.2,63.1 461.0,60.7 461.9,59.3 C462.8,57.8 463.6,55.8 464.5,54.9 C465.4,54.0 466.3,54.1 467.4,53.8 C468.4,53.5 469.4,53.3 470.6,53.2 C471.9,53.0 473.5,52.9 475.0,52.7 C476.5,52.6 478.2,51.9 479.4,52.3 C480.5,52.7 481.1,53.0 482.0,54.9 C482.9,56.8 483.9,60.7 484.8,63.6 C485.8,66.5 486.7,70.5 487.6,72.4 C488.6,74.2 489.3,74.7 490.3,74.5 C491.3,74.4 492.5,72.9 493.6,71.3 C494.6,69.6 495.5,66.4 496.4,64.7 C497.3,63.1 498.0,62.0 499.0,61.5 C500.0,60.9 501.2,61.1 502.3,61.5 C503.4,61.8 504.5,63.1 505.6,63.6 C506.6,64.2 507.7,64.4 508.8,64.7 C509.9,65.1 511.0,65.3 512.1,65.8 C513.2,66.4 514.3,67.2 515.4,68.0 C516.5,68.8 517.5,70.3 518.6,70.6 C519.7,71.0 520.8,70.7 521.9,70.2 C523.0,69.7 524.1,67.9 525.2,67.6 C526.3,67.3 527.4,67.9 528.5,68.4 C529.5,69.0 530.6,70.0 531.7,70.6 C532.8,71.3 533.9,72.3 535.0,72.4 C536.1,72.5 537.4,71.8 538.3,71.3 C539.2,70.7 539.8,69.8 540.5,69.1 C541.1,68.4 542.1,67.3 542.4,66.9" stroke="#f3d146"/><path d="M430.9,77.7 C431.4,78.3 432.6,80.2 433.6,81.0 C434.5,81.8 435.7,82.3 436.8,82.5 C437.9,82.7 439.0,82.5 440.1,82.1 C441.2,81.7 442.3,80.3 443.4,79.9 C444.5,79.5 445.5,79.2 446.6,79.5 C447.7,79.8 448.8,80.9 449.9,81.7 C451.0,82.4 452.3,83.4 453.2,83.8 C454.1,84.3 454.5,85.1 455.4,84.3 C456.3,83.4 457.5,81.0 458.6,78.8 C459.7,76.6 460.8,73.7 461.9,71.2 C463.0,68.6 464.1,65.5 465.2,63.5 C466.3,61.5 467.4,60.2 468.4,59.2 C469.5,58.2 470.5,58.0 471.7,57.6 C473.0,57.3 474.8,56.9 476.1,57.0 C477.4,57.1 478.4,57.2 479.4,58.1 C480.3,59.0 481.1,60.3 482.0,62.5 C482.9,64.6 483.9,68.3 484.8,71.2 C485.8,74.1 486.7,78.1 487.6,79.9 C488.6,81.7 489.4,82.3 490.3,82.1 C491.1,81.9 492.0,80.1 492.9,78.8 C493.8,77.5 494.7,75.4 495.7,74.5 C496.7,73.5 497.9,73.4 499.0,73.4 C500.1,73.4 501.2,73.9 502.3,74.5 C503.4,75.0 504.5,76.1 505.6,76.6 C506.6,77.2 507.7,77.2 508.8,77.7 C509.9,78.3 511.0,78.9 512.1,79.9 C513.2,80.9 514.3,82.9 515.4,83.8 C516.4,84.7 517.3,85.5 518.2,85.4 C519.1,85.2 519.8,84.3 520.8,83.2 C521.8,82.1 523.0,79.7 524.1,78.8 C525.2,77.9 526.3,77.6 527.4,77.7 C528.5,77.8 529.5,79.5 530.6,79.5 C531.7,79.5 532.8,78.6 533.9,77.7 C535.0,76.9 536.2,75.7 537.2,74.5 C538.2,73.2 539.1,71.5 540.0,70.1 C540.9,68.6 542.0,66.5 542.4,65.7" stroke="#c9a227"/></g><rect x="430.9" y="9.2" width="111.5" height="114.0" fill="none" stroke="#1a1a1a" stroke-width="1"/><path d="M450.3,123.3 v-2 M474.5,123.3 v-2 M498.6,123.3 v-2 M522.8,123.3 v-2 M430.9,32.1 h2 M430.9,54.9 h2 M430.9,77.7 h2 M430.9,100.5 h2 " stroke="#1a1a1a" stroke-width="0.7" fill="none"/><text x="430.9" y="131.4" font-size="7.1" text-anchor="middle">0.2</text><text x="450.3" y="131.4" font-size="7.1" text-anchor="middle">0.3</text><text x="474.5" y="131.4" font-size="7.1" text-anchor="middle">0.4</text><text x="498.6" y="131.4" font-size="7.1" text-anchor="middle">0.5</text><text x="522.8" y="131.4" font-size="7.1" text-anchor="middle">0.6</text><text x="541.4" y="131.4" font-size="7.1" text-anchor="middle">0.7</text><text x="428.2" y="11.3" font-size="7.1" text-anchor="end">2.5</text><text x="428.2" y="34.2" font-size="7.1" text-anchor="end">2.0</text><text x="428.2" y="57.0" font-size="7.1" text-anchor="end">1.5</text><text x="428.2" y="79.8" font-size="7.1" text-anchor="end">1.0</text><text x="428.2" y="102.6" font-size="7.1" text-anchor="end">0.5</text><text x="428.2" y="125.4" font-size="7.1" text-anchor="end">0.0</text><text x="485.3" y="141.2" font-size="7.2" text-anchor="middle">Coherence</text><text transform="translate(416.5,66.3) rotate(-90)" font-size="7.5" style="stroke-width:0.2px" text-anchor="middle">RMSE</text><path d="M499.0,14.5 h6.5" stroke="#3a3a3a" stroke-width="0.8"/><text x="506.6" y="16.0" font-size="4.55">Pivoting Median</text><path d="M499.0,20.2 h6.5" stroke="#e8474c" stroke-width="0.8"/><text x="506.6" y="21.7" font-size="4.55">Goldstein</text><path d="M499.0,25.8 h6.5" stroke="#2277d6" stroke-width="0.8"/><text x="506.6" y="27.3" font-size="4.55">Lee</text><path d="M499.0,31.5 h6.5" stroke="#3cb37c" stroke-width="0.8"/><text x="506.6" y="33.0" font-size="4.55">NL-InSAR</text><path d="M499.0,37.2 h6.5" stroke="#bb88e4" stroke-width="0.8"/><text x="506.6" y="38.7" font-size="4.55">InSAR-BM3D</text><path d="M499.0,42.9 h6.5" stroke="#f3d146" stroke-width="0.8"/><text x="506.6" y="44.4" font-size="4.55">Φ-Net</text><path d="M499.0,48.5 h6.5" stroke="#c9a227" stroke-width="0.8"/><text x="506.6" y="50.0" font-size="4.55">Proposed Method</text></g>
<g><clipPath id="cp10"><rect x="24.1" y="155.1" width="111.5" height="114.2"/></clipPath><path d="M26.6,155.1 V269.3 M28.9,155.1 V269.3 M31.2,155.1 V269.3 M33.5,155.1 V269.3 M35.8,155.1 V269.3 M38.1,155.1 V269.3 M40.4,155.1 V269.3 M42.7,155.1 V269.3 M45.0,155.1 V269.3 M47.3,155.1 V269.3 M49.6,155.1 V269.3 M51.9,155.1 V269.3 M54.2,155.1 V269.3 M56.5,155.1 V269.3 M58.8,155.1 V269.3 M61.1,155.1 V269.3 M63.4,155.1 V269.3 M65.7,155.1 V269.3 M68.0,155.1 V269.3 M70.3,155.1 V269.3 M72.6,155.1 V269.3 M74.9,155.1 V269.3 M77.2,155.1 V269.3 M79.5,155.1 V269.3 M81.8,155.1 V269.3 M84.1,155.1 V269.3 M86.4,155.1 V269.3 M88.7,155.1 V269.3 M91.0,155.1 V269.3 M93.3,155.1 V269.3 M95.6,155.1 V269.3 M97.9,155.1 V269.3 M100.2,155.1 V269.3 M102.5,155.1 V269.3 M104.8,155.1 V269.3 M107.1,155.1 V269.3 M109.4,155.1 V269.3 M111.7,155.1 V269.3 M114.0,155.1 V269.3 M116.3,155.1 V269.3 M118.6,155.1 V269.3 M120.9,155.1 V269.3 M123.2,155.1 V269.3 M125.5,155.1 V269.3 M127.8,155.1 V269.3 M130.1,155.1 V269.3 M132.4,155.1 V269.3 M24.1,169.4 H135.6 M24.1,183.7 H135.6 M24.1,197.9 H135.6 M24.1,212.2 H135.6 M24.1,226.5 H135.6 M24.1,240.8 H135.6 M24.1,255.0 H135.6 " stroke="#f3f2ea" stroke-width="0.4" fill="none"/><g clip-path="url(#cp10)" fill="none" stroke-width="1.05" stroke-linejoin="round" stroke-linecap="round"><path d="M23.9,191.4 C24.3,190.7 25.4,188.6 26.1,187.1 C26.8,185.6 27.7,183.5 28.3,182.3 C28.9,181.1 29.3,180.0 29.8,180.1 C30.3,180.2 30.8,181.4 31.4,182.7 C31.9,184.1 32.4,186.4 33.1,188.2 C33.7,190.0 34.5,192.1 35.3,193.6 C36.0,195.2 36.7,196.4 37.5,197.6 C38.2,198.7 38.9,199.5 39.6,200.6 C40.4,201.8 41.1,203.1 41.8,204.6 C42.5,206.0 43.3,208.9 44.0,209.3 C44.7,209.8 45.5,207.2 46.2,207.2 C46.8,207.2 47.3,209.3 47.9,209.3 C48.6,209.3 49.3,208.1 50.1,207.2 C50.9,206.2 51.7,205.0 52.7,203.4 C53.7,201.9 54.9,200.0 56.0,198.0 C57.1,196.0 58.2,194.0 59.3,191.4 C60.4,188.9 61.5,185.1 62.5,182.7 C63.6,180.4 64.7,178.9 65.8,177.3 C66.9,175.6 68.0,174.0 69.1,172.9 C70.2,171.8 71.3,171.0 72.4,170.7 C73.5,170.5 74.5,171.6 75.6,171.4 C76.7,171.1 77.8,169.3 78.9,169.2 C80.0,169.1 81.1,170.7 82.2,170.7 C83.3,170.7 84.2,169.6 85.5,169.2 C86.7,168.8 88.5,168.8 89.8,168.6 C91.1,168.3 92.0,168.0 93.1,167.9 C94.2,167.8 95.5,167.2 96.4,167.9 C97.3,168.5 97.8,170.1 98.5,171.8 C99.3,173.6 100.3,176.3 101.2,178.4 C102.1,180.5 103.0,183.0 104.0,184.5 C105.0,185.9 106.3,186.8 107.3,187.1 C108.3,187.3 109.0,187.1 109.9,186.0 C110.8,184.9 111.8,182.7 112.7,180.6 C113.7,178.4 114.7,175.2 115.6,172.9 C116.5,170.7 117.3,168.6 118.2,167.0 C119.1,165.5 119.9,163.9 120.8,163.5 C121.7,163.2 122.6,164.1 123.6,164.8 C124.7,165.6 125.8,167.5 126.9,167.9 C128.0,168.3 129.2,167.7 130.2,167.4 C131.2,167.2 132.1,166.2 133.0,166.4 C134.0,166.5 135.4,168.2 135.8,168.6" stroke="#3a3a3a"/><path d="M23.9,232.4 C24.4,231.7 25.7,229.9 26.6,228.4 C27.4,227.0 28.3,225.0 29.2,223.6 C30.1,222.3 31.2,221.1 32.0,220.4 C32.8,219.6 33.5,218.9 34.2,219.3 C34.9,219.6 35.6,221.6 36.4,222.6 C37.1,223.5 37.8,224.5 38.5,224.7 C39.3,224.9 40.0,223.4 40.7,223.6 C41.5,223.9 42.2,226.0 42.9,226.2 C43.6,226.5 44.4,226.0 45.1,225.4 C45.8,224.8 46.4,223.8 47.3,222.6 C48.2,221.4 49.5,219.7 50.5,218.2 C51.6,216.6 52.7,214.8 53.8,213.2 C54.9,211.5 56.0,210.1 57.1,208.4 C58.2,206.7 59.3,204.9 60.4,202.9 C61.5,200.9 62.5,198.2 63.6,196.4 C64.7,194.5 65.8,193.5 66.9,192.0 C68.0,190.5 69.1,188.6 70.2,187.6 C71.3,186.7 72.4,186.4 73.5,186.1 C74.5,185.9 75.6,186.2 76.7,186.1 C77.8,186.0 79.1,185.0 80.0,185.4 C80.9,185.9 81.3,187.6 82.2,188.7 C83.0,189.8 84.1,191.7 85.0,192.0 C85.9,192.3 86.8,191.3 87.6,190.5 C88.5,189.6 89.3,188.1 90.2,187.0 C91.2,185.9 92.1,184.8 93.1,183.9 C94.0,183.1 95.2,181.6 95.9,181.8 C96.7,181.9 97.1,182.8 97.7,184.8 C98.3,186.8 98.8,190.3 99.4,193.5 C100.0,196.7 100.5,200.4 101.2,204.0 C101.8,207.6 102.6,211.8 103.3,214.9 C104.1,218.0 104.8,220.7 105.5,222.6 C106.3,224.4 107.0,226.1 107.7,226.2 C108.4,226.4 109.2,225.3 109.9,223.6 C110.6,221.9 111.3,219.3 112.1,216.0 C112.8,212.7 113.5,208.2 114.2,204.0 C115.0,199.8 115.7,194.9 116.4,190.9 C117.2,186.9 117.8,183.2 118.6,180.0 C119.5,176.8 120.5,173.4 121.5,171.7 C122.4,170.0 123.3,170.0 124.3,170.0 C125.3,170.0 126.4,171.1 127.3,171.7 C128.3,172.4 129.2,173.5 130.2,173.9 C131.1,174.3 132.1,173.8 133.0,174.3 C134.0,174.9 135.4,176.7 135.8,177.2" stroke="#e8474c"/><path d="M23.9,202.4 C24.3,201.5 25.4,198.5 26.1,196.9 C26.8,195.3 27.6,193.5 28.3,192.6 C29.0,191.6 29.6,190.8 30.2,191.0 C30.9,191.2 31.3,192.7 32.0,193.6 C32.7,194.6 33.3,195.9 34.2,196.9 C35.0,197.9 36.1,199.0 37.0,199.8 C37.9,200.5 38.8,201.4 39.6,201.3 C40.4,201.2 41.1,200.2 41.8,199.1 C42.5,198.0 43.3,196.4 44.0,194.7 C44.7,193.1 45.5,190.3 46.2,189.3 C46.8,188.3 47.3,188.5 47.9,188.8 C48.5,189.1 48.9,190.9 49.7,191.0 C50.4,191.1 51.4,189.9 52.3,189.3 C53.2,188.6 54.0,187.9 54.9,187.1 C55.8,186.3 56.7,185.0 57.5,184.5 C58.3,183.9 59.0,184.5 59.7,183.8 C60.4,183.2 61.2,181.6 61.9,180.6 C62.5,179.5 62.9,178.0 63.6,177.3 C64.4,176.5 65.3,176.8 66.2,176.2 C67.2,175.6 68.1,174.3 69.1,173.6 C70.1,172.8 71.3,172.1 72.4,171.8 C73.5,171.5 74.6,171.5 75.6,171.8 C76.7,172.1 77.6,173.0 78.5,173.6 C79.4,174.1 80.1,174.7 81.1,175.1 C82.1,175.5 83.3,176.0 84.4,175.8 C85.5,175.5 86.5,174.3 87.6,173.6 C88.7,172.8 89.8,172.1 90.9,171.4 C92.0,170.7 93.3,169.7 94.2,169.2 C95.1,168.7 95.6,167.9 96.4,168.6 C97.1,169.2 97.8,170.9 98.5,172.9 C99.3,174.9 100.3,177.8 101.2,180.6 C102.1,183.3 103.1,186.8 104.0,189.3 C104.9,191.7 106.0,194.2 106.8,195.4 C107.7,196.5 108.2,196.7 109.0,196.2 C109.8,195.8 110.8,194.4 111.6,192.6 C112.5,190.7 113.3,187.6 114.2,184.9 C115.2,182.2 116.1,178.9 117.1,176.2 C118.0,173.5 119.0,170.3 119.9,168.6 C120.8,166.8 121.7,165.9 122.5,165.7 C123.4,165.5 124.3,166.9 125.2,167.4 C126.1,168.0 127.1,169.2 128.0,169.2 C128.9,169.2 129.9,167.9 130.8,167.4 C131.7,167.0 132.6,166.2 133.4,166.4 C134.3,166.5 135.4,168.2 135.8,168.6" stroke="#2277d6"/><path d="M23.9,170.7 C24.3,171.0 25.4,171.4 26.1,172.2 C26.8,173.1 27.6,175.0 28.3,175.8 C29.0,176.5 29.7,176.9 30.5,176.6 C31.2,176.3 31.9,174.1 32.6,174.0 C33.4,173.9 34.0,175.0 34.8,175.8 C35.6,176.5 36.6,178.1 37.5,178.4 C38.3,178.6 39.2,177.9 40.1,177.3 C41.0,176.6 42.0,175.3 42.9,174.4 C43.9,173.5 44.8,172.5 45.8,171.8 C46.7,171.1 47.4,170.6 48.4,170.1 C49.3,169.5 50.5,169.0 51.6,168.6 C52.7,168.1 53.8,167.8 54.9,167.4 C56.0,167.1 57.1,166.9 58.2,166.4 C59.3,165.8 60.4,164.9 61.5,164.2 C62.5,163.5 63.6,162.5 64.7,162.0 C65.8,161.5 66.7,161.2 68.0,160.9 C69.3,160.7 70.9,160.7 72.4,160.5 C73.8,160.3 75.3,159.8 76.7,159.8 C78.2,159.8 79.6,160.3 81.1,160.5 C82.5,160.7 84.0,160.8 85.5,160.9 C86.9,161.1 88.4,161.4 89.8,161.3 C91.3,161.3 93.1,160.4 94.2,160.5 C95.3,160.6 95.6,161.0 96.4,162.0 C97.2,163.0 98.1,164.9 99.0,166.4 C99.9,167.8 100.8,169.3 101.8,170.7 C102.8,172.2 104.1,174.0 105.1,175.1 C106.1,176.2 106.8,177.3 107.7,177.3 C108.6,177.3 109.6,176.2 110.5,175.1 C111.5,174.0 112.5,172.2 113.4,170.7 C114.3,169.3 115.0,167.6 116.0,166.4 C117.0,165.1 118.3,163.8 119.3,163.1 C120.3,162.4 121.2,161.9 122.1,162.0 C123.0,162.1 123.7,163.2 124.7,163.5 C125.7,163.9 126.9,164.2 128.0,164.2 C129.1,164.2 130.4,163.5 131.3,163.5 C132.2,163.5 132.7,163.8 133.4,164.2 C134.2,164.5 135.4,165.5 135.8,165.7" stroke="#3cb37c"/><path d="M23.9,165.7 C24.3,165.3 25.3,164.0 26.1,163.5 C26.9,163.0 27.9,162.4 28.7,162.7 C29.6,162.9 30.4,164.0 31.4,164.8 C32.3,165.6 33.2,166.6 34.2,167.4 C35.2,168.3 36.4,169.5 37.5,170.1 C38.5,170.6 39.6,170.5 40.7,170.7 C41.8,170.9 42.9,171.4 44.0,171.4 C45.1,171.4 46.2,171.1 47.3,170.7 C48.4,170.4 49.5,169.7 50.5,169.2 C51.6,168.7 52.7,168.0 53.8,167.4 C54.9,166.9 56.0,166.4 57.1,165.7 C58.2,165.1 59.3,164.4 60.4,163.5 C61.5,162.7 62.5,161.3 63.6,160.5 C64.7,159.7 65.8,159.2 66.9,158.7 C68.0,158.3 69.1,157.7 70.2,157.6 C71.3,157.6 72.4,158.0 73.5,158.3 C74.5,158.5 75.6,158.7 76.7,159.2 C77.8,159.6 78.9,160.2 80.0,160.9 C81.1,161.6 82.2,163.0 83.3,163.5 C84.4,164.1 85.5,164.0 86.5,164.2 C87.6,164.4 88.7,164.8 89.8,164.8 C90.9,164.8 92.0,164.2 93.1,164.2 C94.2,164.2 95.4,164.1 96.4,164.8 C97.3,165.6 98.1,167.1 99.0,168.6 C99.9,170.0 100.9,172.0 101.8,173.6 C102.8,175.1 103.7,176.8 104.7,177.9 C105.6,179.0 106.4,180.1 107.3,180.1 C108.1,180.1 109.0,179.0 109.9,177.9 C110.8,176.8 111.8,175.1 112.7,173.6 C113.7,172.0 114.7,170.0 115.6,168.6 C116.5,167.1 117.3,165.8 118.2,164.8 C119.1,163.9 119.9,163.0 120.8,162.7 C121.7,162.3 122.6,162.5 123.6,162.7 C124.7,162.8 125.8,163.5 126.9,163.5 C128.0,163.6 129.2,163.3 130.2,163.1 C131.2,162.8 132.1,161.9 133.0,162.0 C134.0,162.1 135.4,163.3 135.8,163.5" stroke="#bb88e4"/><path d="M23.9,167.9 C24.4,167.7 25.7,167.4 26.6,167.0 C27.4,166.7 28.3,165.6 29.2,165.7 C30.1,165.8 31.1,167.0 32.0,167.4 C32.9,167.9 33.9,168.3 34.8,168.6 C35.7,168.8 36.5,168.8 37.5,169.2 C38.4,169.6 39.6,170.3 40.7,170.7 C41.8,171.2 42.9,171.9 44.0,171.8 C45.1,171.7 46.2,170.7 47.3,170.1 C48.4,169.4 49.5,168.4 50.5,167.9 C51.6,167.4 52.7,167.3 53.8,167.0 C54.9,166.8 56.0,166.7 57.1,166.4 C58.2,166.1 59.3,166.0 60.4,165.3 C61.5,164.5 62.5,162.9 63.6,162.0 C64.7,161.1 65.8,160.3 66.9,159.8 C68.0,159.3 68.9,159.3 70.2,159.2 C71.5,159.0 73.1,158.7 74.5,158.7 C76.0,158.7 77.5,158.9 78.9,159.2 C80.4,159.4 81.8,160.2 83.3,160.5 C84.7,160.8 86.2,161.0 87.6,160.9 C89.1,160.8 90.7,160.0 92.0,159.8 C93.3,159.6 94.4,159.3 95.3,159.8 C96.2,160.4 96.6,161.6 97.5,163.1 C98.3,164.5 99.4,166.9 100.3,168.6 C101.2,170.2 102.0,171.6 102.9,172.9 C103.8,174.2 104.7,175.5 105.5,176.2 C106.3,176.9 106.9,177.6 107.7,177.3 C108.5,177.0 109.6,175.6 110.5,174.4 C111.5,173.2 112.5,171.4 113.4,170.1 C114.3,168.7 115.1,167.5 116.0,166.4 C116.9,165.3 117.7,164.4 118.6,163.5 C119.5,162.7 120.5,161.6 121.5,161.3 C122.4,161.1 123.4,161.6 124.3,162.0 C125.2,162.4 125.9,163.3 126.9,163.5 C127.9,163.8 129.2,163.6 130.2,163.5 C131.2,163.5 132.1,162.8 133.0,163.1 C134.0,163.4 135.4,164.9 135.8,165.3" stroke="#f3d146"/><path d="M23.9,169.2 C24.4,169.1 25.6,168.8 26.6,168.6 C27.5,168.3 28.7,167.8 29.8,167.9 C30.9,168.0 32.0,168.8 33.1,169.2 C34.2,169.6 35.3,170.0 36.4,170.1 C37.5,170.1 38.5,169.8 39.6,169.6 C40.7,169.5 41.8,169.6 42.9,169.2 C44.0,168.8 45.1,168.1 46.2,167.4 C47.3,166.8 48.4,165.6 49.5,165.3 C50.5,165.0 51.6,165.5 52.7,165.7 C53.8,165.9 54.9,166.5 56.0,166.4 C57.1,166.2 58.2,165.6 59.3,164.8 C60.4,164.1 61.5,162.7 62.5,162.0 C63.6,161.3 64.7,160.8 65.8,160.5 C66.9,160.1 68.0,160.0 69.1,159.8 C70.2,159.6 71.1,159.4 72.4,159.2 C73.6,158.9 75.3,158.2 76.7,158.3 C78.2,158.4 79.6,159.7 81.1,159.8 C82.5,160.0 84.0,159.3 85.5,159.2 C86.9,159.1 88.4,159.2 89.8,159.2 C91.3,159.1 93.1,158.4 94.2,158.7 C95.3,159.0 95.6,159.7 96.4,160.9 C97.2,162.1 98.1,164.3 99.0,165.7 C99.9,167.1 100.9,168.2 101.8,169.2 C102.8,170.2 103.7,171.2 104.7,171.8 C105.6,172.4 106.4,173.0 107.3,172.9 C108.1,172.8 109.0,172.2 109.9,171.4 C110.8,170.5 111.8,169.0 112.7,167.9 C113.7,166.8 114.7,165.7 115.6,164.8 C116.5,164.0 117.3,163.2 118.2,162.7 C119.1,162.1 120.0,161.8 120.8,161.3 C121.6,160.9 122.1,159.7 123.0,159.8 C123.8,159.9 124.8,161.6 125.8,162.0 C126.8,162.4 128.0,162.1 129.1,162.0 C130.2,161.9 131.2,161.2 132.4,161.3 C133.5,161.5 135.3,162.8 135.8,163.1" stroke="#c9a227"/></g><rect x="24.1" y="155.1" width="111.5" height="114.2" fill="none" stroke="#1a1a1a" stroke-width="1"/><path d="M47.3,269.3 v-2 M70.3,269.3 v-2 M93.3,269.3 v-2 M116.3,269.3 v-2 M24.1,183.7 h2 M24.1,212.2 h2 M24.1,240.8 h2 " stroke="#1a1a1a" stroke-width="0.7" fill="none"/><text x="24.1" y="277.4" font-size="7.1" text-anchor="middle">0.2</text><text x="43.5" y="277.4" font-size="7.1" text-anchor="middle">0.3</text><text x="67.7" y="277.4" font-size="7.1" text-anchor="middle">0.4</text><text x="91.8" y="277.4" font-size="7.1" text-anchor="middle">0.5</text><text x="116.0" y="277.4" font-size="7.1" text-anchor="middle">0.6</text><text x="134.6" y="277.4" font-size="7.1" text-anchor="middle">0.7</text><text x="21.4" y="157.2" font-size="7.1" text-anchor="end">1.0</text><text x="21.4" y="185.8" font-size="7.1" text-anchor="end">0.9</text><text x="21.4" y="214.3" font-size="7.1" text-anchor="end">0.8</text><text x="21.4" y="242.8" font-size="7.1" text-anchor="end">0.7</text><text x="21.4" y="271.4" font-size="7.1" text-anchor="end">0.6</text><text x="78.5" y="287.2" font-size="7.2" text-anchor="middle">Coherence</text><text transform="translate(9.7,212.2) rotate(-90)" font-size="7.5" style="stroke-width:0.2px" text-anchor="middle">SSIM</text><path d="M92.2,228.2 h6.5" stroke="#3a3a3a" stroke-width="0.8"/><text x="99.8" y="229.7" font-size="4.55">Pivoting Median</text><path d="M92.2,233.9 h6.5" stroke="#e8474c" stroke-width="0.8"/><text x="99.8" y="235.4" font-size="4.55">Goldstein</text><path d="M92.2,239.5 h6.5" stroke="#2277d6" stroke-width="0.8"/><text x="99.8" y="241.0" font-size="4.55">Lee</text><path d="M92.2,245.2 h6.5" stroke="#3cb37c" stroke-width="0.8"/><text x="99.8" y="246.7" font-size="4.55">NL-InSAR</text><path d="M92.2,250.9 h6.5" stroke="#bb88e4" stroke-width="0.8"/><text x="99.8" y="252.4" font-size="4.55">InSAR-BM3D</text><path d="M92.2,256.6 h6.5" stroke="#f3d146" stroke-width="0.8"/><text x="99.8" y="258.1" font-size="4.55">Φ-Net</text><path d="M92.2,262.2 h6.5" stroke="#c9a227" stroke-width="0.8"/><text x="99.8" y="263.7" font-size="4.55">Proposed Method</text></g>
<g><clipPath id="cp11"><rect x="158.7" y="155.1" width="111.5" height="114.2"/></clipPath><path d="M161.2,155.1 V269.3 M163.5,155.1 V269.3 M165.8,155.1 V269.3 M168.1,155.1 V269.3 M170.4,155.1 V269.3 M172.7,155.1 V269.3 M175.0,155.1 V269.3 M177.3,155.1 V269.3 M179.6,155.1 V269.3 M181.9,155.1 V269.3 M184.2,155.1 V269.3 M186.5,155.1 V269.3 M188.8,155.1 V269.3 M191.1,155.1 V269.3 M193.4,155.1 V269.3 M195.7,155.1 V269.3 M198.0,155.1 V269.3 M200.3,155.1 V269.3 M202.6,155.1 V269.3 M204.9,155.1 V269.3 M207.2,155.1 V269.3 M209.5,155.1 V269.3 M211.8,155.1 V269.3 M214.1,155.1 V269.3 M216.4,155.1 V269.3 M218.7,155.1 V269.3 M221.0,155.1 V269.3 M223.3,155.1 V269.3 M225.6,155.1 V269.3 M227.9,155.1 V269.3 M230.2,155.1 V269.3 M232.5,155.1 V269.3 M234.8,155.1 V269.3 M237.1,155.1 V269.3 M239.4,155.1 V269.3 M241.7,155.1 V269.3 M244.0,155.1 V269.3 M246.3,155.1 V269.3 M248.6,155.1 V269.3 M250.9,155.1 V269.3 M253.2,155.1 V269.3 M255.5,155.1 V269.3 M257.8,155.1 V269.3 M260.1,155.1 V269.3 M262.4,155.1 V269.3 M264.7,155.1 V269.3 M267.0,155.1 V269.3 M158.7,169.4 H270.2 M158.7,183.7 H270.2 M158.7,197.9 H270.2 M158.7,212.2 H270.2 M158.7,226.5 H270.2 M158.7,240.8 H270.2 M158.7,255.0 H270.2 " stroke="#f3f2ea" stroke-width="0.4" fill="none"/><g clip-path="url(#cp11)" fill="none" stroke-width="1.05" stroke-linejoin="round" stroke-linecap="round"><path d="M162.0,190.4 C162.3,189.5 163.1,186.7 163.7,184.9 C164.4,183.1 165.2,180.9 165.9,179.4 C166.6,178.0 167.4,176.4 168.1,176.2 C168.8,175.9 169.5,177.3 170.3,177.9 C171.1,178.6 172.0,179.9 172.9,180.1 C173.8,180.4 174.7,179.7 175.7,179.4 C176.7,179.2 178.0,179.0 179.0,178.4 C180.0,177.7 180.7,176.8 181.6,175.8 C182.5,174.7 183.5,172.7 184.4,171.8 C185.4,171.0 186.4,170.7 187.3,170.7 C188.2,170.7 189.0,171.1 189.9,171.8 C190.8,172.5 191.7,174.4 192.5,175.1 C193.3,175.8 194.0,176.4 194.7,176.2 C195.4,175.9 196.1,174.3 196.9,173.6 C197.7,172.8 198.8,172.0 199.7,171.8 C200.7,171.6 201.7,171.8 202.6,172.2 C203.5,172.7 204.2,174.2 205.2,174.4 C206.2,174.7 207.4,173.3 208.4,173.6 C209.5,173.8 210.6,175.1 211.7,175.8 C212.8,176.4 213.9,177.4 215.0,177.3 C216.1,177.2 217.2,175.8 218.3,175.1 C219.4,174.4 220.5,173.1 221.6,172.9 C222.6,172.7 223.7,173.1 224.8,174.0 C225.9,174.9 227.0,177.1 228.1,178.4 C229.2,179.6 230.4,181.0 231.4,181.6 C232.3,182.3 233.2,182.7 234.0,182.3 C234.8,181.9 235.3,180.8 236.2,179.4 C237.0,178.1 238.0,175.8 239.0,174.0 C240.0,172.2 241.2,170.4 242.3,168.6 C243.4,166.7 244.6,164.4 245.6,163.1 C246.5,161.7 246.8,160.5 247.7,160.5 C248.6,160.4 249.9,161.8 251.0,162.7 C252.1,163.5 253.2,164.7 254.3,165.7 C255.4,166.7 256.5,167.7 257.6,168.6 C258.6,169.4 259.9,170.3 260.8,170.7 C261.7,171.2 262.1,171.6 263.0,171.4 C263.9,171.1 265.4,170.0 266.3,169.2 C267.2,168.4 267.7,167.3 268.4,166.4 C269.2,165.4 270.3,164.0 270.6,163.5" stroke="#3a3a3a"/><path d="M162.0,173.6 C162.5,173.3 163.9,172.3 164.8,171.8 C165.8,171.3 166.7,170.7 167.7,170.7 C168.6,170.7 169.3,171.6 170.3,171.8 C171.3,172.0 172.5,172.0 173.6,171.8 C174.6,171.6 175.7,170.8 176.8,170.7 C177.9,170.7 179.0,171.5 180.1,171.4 C181.2,171.3 182.3,170.4 183.4,170.1 C184.5,169.7 185.5,169.1 186.6,169.2 C187.7,169.3 188.8,170.3 189.9,170.7 C191.0,171.2 192.1,171.7 193.2,171.8 C194.3,171.9 195.4,171.3 196.4,171.4 C197.5,171.5 198.6,171.9 199.7,172.2 C200.8,172.6 201.9,173.4 203.0,173.6 C204.1,173.7 205.2,172.8 206.3,172.9 C207.4,173.0 208.5,173.5 209.6,174.0 C210.6,174.5 211.7,176.3 212.8,176.2 C213.9,176.1 215.0,174.3 216.1,173.6 C217.2,172.8 218.3,172.3 219.4,171.8 C220.5,171.3 221.5,171.2 222.6,170.7 C223.7,170.3 224.8,169.3 225.9,169.2 C227.0,169.1 228.1,169.8 229.2,170.1 C230.3,170.3 231.4,170.5 232.4,170.7 C233.5,170.9 234.6,171.6 235.7,171.4 C236.8,171.1 237.9,169.9 239.0,169.2 C240.1,168.5 241.2,167.9 242.3,167.4 C243.4,167.0 244.5,166.7 245.6,166.4 C246.6,166.0 247.7,165.6 248.8,165.3 C249.9,164.9 251.0,164.5 252.1,164.2 C253.2,163.9 254.3,163.9 255.4,163.5 C256.5,163.2 257.5,162.4 258.6,162.0 C259.7,161.6 260.8,161.5 261.9,161.3 C263.0,161.2 264.1,161.1 265.2,160.9 C266.3,160.8 267.5,160.7 268.4,160.5 C269.4,160.3 270.3,159.9 270.6,159.8" stroke="#e8474c"/><path d="M162.0,191.0 C162.3,190.0 163.1,186.8 163.7,184.9 C164.4,183.0 165.2,180.8 165.9,179.4 C166.6,178.1 167.4,176.8 168.1,176.6 C168.8,176.4 169.5,177.9 170.3,178.4 C171.0,178.8 171.7,179.6 172.4,179.4 C173.2,179.3 173.9,178.0 174.6,177.3 C175.4,176.5 176.1,175.0 176.8,175.1 C177.5,175.2 178.2,177.0 179.0,177.9 C179.8,178.8 180.7,180.6 181.6,180.6 C182.5,180.6 183.4,178.5 184.4,177.9 C185.5,177.4 186.6,177.3 187.7,177.3 C188.8,177.3 189.9,177.9 191.0,177.9 C192.1,177.9 193.2,177.6 194.3,177.3 C195.4,176.9 196.5,175.6 197.6,175.8 C198.6,175.9 199.7,176.9 200.8,177.9 C201.9,178.9 203.2,181.4 204.1,181.6 C205.0,181.9 205.5,180.2 206.3,179.4 C207.0,178.7 207.7,177.2 208.4,177.3 C209.2,177.4 209.7,179.5 210.6,180.1 C211.5,180.7 212.8,181.1 213.9,181.0 C215.0,180.9 216.1,179.6 217.2,179.4 C218.3,179.3 219.4,180.1 220.4,180.1 C221.5,180.1 222.6,179.4 223.7,179.4 C224.8,179.5 225.9,180.7 227.0,180.6 C228.1,180.4 229.2,178.9 230.3,178.4 C231.4,177.8 232.6,177.3 233.6,177.3 C234.5,177.2 235.0,178.3 235.7,177.9 C236.5,177.6 237.0,176.1 237.9,175.1 C238.8,174.1 240.1,172.8 241.2,171.8 C242.3,170.8 243.4,170.1 244.4,169.2 C245.5,168.3 246.6,166.9 247.7,166.4 C248.8,165.8 249.9,165.5 251.0,165.7 C252.1,165.9 253.2,166.7 254.3,167.4 C255.4,168.2 256.5,169.5 257.6,170.1 C258.6,170.6 259.7,170.8 260.8,170.7 C261.9,170.7 263.0,170.3 264.1,169.6 C265.2,169.0 266.3,168.1 267.4,167.0 C268.5,165.9 270.1,163.7 270.6,163.1" stroke="#2277d6"/><path d="M162.0,182.7 C162.3,181.6 163.1,178.4 163.7,176.2 C164.4,174.0 165.1,171.6 165.9,169.6 C166.7,167.6 167.6,165.3 168.5,164.2 C169.4,163.0 170.3,162.8 171.4,162.7 C172.4,162.5 173.5,163.1 174.6,163.5 C175.7,164.0 176.8,165.2 177.9,165.3 C179.0,165.4 180.1,164.9 181.2,164.2 C182.3,163.5 183.4,161.9 184.4,160.9 C185.5,159.9 186.6,158.8 187.7,158.3 C188.8,157.7 189.9,157.6 191.0,157.6 C192.1,157.6 193.2,157.7 194.3,158.3 C195.4,158.8 196.5,159.8 197.6,160.9 C198.6,162.0 199.7,163.6 200.8,164.8 C201.9,166.1 203.0,167.7 204.1,168.6 C205.2,169.4 206.3,169.9 207.4,170.1 C208.5,170.3 209.5,169.5 210.6,169.6 C211.7,169.8 212.8,170.4 213.9,170.7 C215.0,171.1 216.1,171.5 217.2,171.8 C218.3,172.2 219.4,172.9 220.4,172.9 C221.5,172.9 222.6,171.8 223.7,171.8 C224.8,171.8 225.9,172.6 227.0,172.9 C228.1,173.2 229.2,173.7 230.3,173.6 C231.4,173.4 232.5,172.7 233.6,171.8 C234.6,171.0 235.7,169.8 236.8,168.6 C237.9,167.3 239.0,165.5 240.1,164.2 C241.2,162.9 242.3,161.7 243.4,160.9 C244.5,160.1 245.5,159.0 246.6,159.2 C247.7,159.3 248.8,161.0 249.9,162.0 C251.0,163.0 252.1,164.3 253.2,165.3 C254.3,166.3 255.4,167.2 256.4,167.9 C257.5,168.6 258.6,169.5 259.7,169.6 C260.8,169.8 261.9,169.2 263.0,168.6 C264.1,167.9 265.4,166.5 266.3,165.7 C267.2,164.9 267.7,164.1 268.4,163.5 C269.2,162.9 270.3,162.3 270.6,162.0" stroke="#3cb37c"/><path d="M162.0,162.7 C162.5,162.1 163.8,160.1 164.8,159.2 C165.8,158.2 167.0,157.5 168.1,157.0 C169.2,156.5 170.3,155.8 171.4,156.1 C172.5,156.4 173.5,157.7 174.6,158.7 C175.7,159.7 176.8,161.1 177.9,162.0 C179.0,162.9 180.1,164.0 181.2,164.2 C182.3,164.4 183.4,163.8 184.4,163.1 C185.5,162.4 186.6,160.9 187.7,159.8 C188.8,158.7 189.9,157.4 191.0,156.6 C192.1,155.7 193.3,154.9 194.3,154.8 C195.3,154.7 196.0,155.3 196.9,156.1 C197.8,156.9 198.7,158.5 199.7,159.8 C200.7,161.2 201.9,162.6 203.0,164.2 C204.1,165.7 205.2,167.7 206.3,169.2 C207.4,170.7 208.5,172.3 209.6,173.1 C210.6,174.0 211.7,174.4 212.8,174.2 C213.9,174.1 215.0,172.5 216.1,172.2 C217.2,172.0 218.5,173.0 219.4,172.9 C220.3,172.8 220.7,172.7 221.6,171.8 C222.4,170.9 223.4,168.5 224.4,167.4 C225.4,166.4 226.5,166.1 227.4,165.7 C228.4,165.3 229.3,165.2 230.3,165.3 C231.3,165.4 232.5,166.3 233.6,166.4 C234.6,166.4 235.7,166.3 236.8,165.7 C237.9,165.2 239.0,164.0 240.1,163.1 C241.2,162.2 242.3,161.2 243.4,160.5 C244.5,159.7 245.5,159.1 246.6,158.7 C247.7,158.4 248.8,158.3 249.9,158.3 C251.0,158.3 252.1,158.6 253.2,158.7 C254.3,158.9 255.4,159.0 256.4,159.2 C257.5,159.3 258.6,159.7 259.7,159.8 C260.8,159.9 261.9,159.8 263.0,159.8 C264.1,159.8 265.4,159.9 266.3,159.8 C267.2,159.7 267.7,159.2 268.4,159.2 C269.2,159.2 270.3,159.7 270.6,159.8" stroke="#bb88e4"/><path d="M162.0,173.6 C162.3,172.9 163.2,170.5 164.0,169.4 C164.8,168.3 165.8,167.2 166.8,166.8 C167.8,166.4 169.0,167.1 170.1,167.2 C171.1,167.4 172.2,167.6 173.3,167.9 C174.4,168.2 175.5,168.7 176.6,169.0 C177.7,169.2 178.9,169.5 180.0,169.4 C181.1,169.3 182.2,168.9 183.3,168.3 C184.4,167.8 185.5,166.4 186.6,166.2 C187.7,165.9 188.8,166.4 189.9,166.8 C191.0,167.2 192.1,167.9 193.2,168.3 C194.3,168.8 195.4,168.9 196.4,169.4 C197.5,169.9 198.6,170.7 199.7,171.2 C200.8,171.6 201.9,172.0 203.0,172.2 C204.1,172.5 205.2,172.8 206.3,172.7 C207.4,172.6 208.4,171.9 209.6,171.6 C210.7,171.3 211.9,171.2 212.9,170.7 C213.9,170.3 214.6,169.6 215.4,169.0 C216.3,168.4 217.2,167.9 218.0,167.2 C218.8,166.6 219.5,165.3 220.4,165.3 C221.4,165.2 222.6,166.4 223.7,167.0 C224.8,167.7 225.9,168.6 227.0,169.2 C228.1,169.8 229.2,170.4 230.3,170.7 C231.4,171.1 232.5,171.6 233.6,171.4 C234.6,171.1 235.7,170.1 236.8,169.2 C237.9,168.3 239.0,166.9 240.1,165.7 C241.2,164.5 242.3,163.0 243.4,162.0 C244.5,161.0 245.5,160.3 246.6,159.8 C247.7,159.3 248.8,159.2 249.9,159.2 C251.0,159.2 252.1,159.6 253.2,159.8 C254.3,160.0 255.4,160.3 256.4,160.5 C257.5,160.7 258.6,160.7 259.7,160.9 C260.8,161.2 261.9,162.0 263.0,162.0 C264.1,162.0 265.4,161.3 266.3,160.9 C267.2,160.5 267.7,159.9 268.4,159.8 C269.2,159.7 270.3,160.4 270.6,160.5" stroke="#f3d146"/><path d="M162.0,158.7 C162.5,158.6 163.8,158.3 164.8,158.1 C165.8,157.9 166.9,157.4 167.9,157.4 C168.9,157.5 169.8,157.9 170.7,158.3 C171.6,158.7 172.2,158.7 173.3,159.6 C174.4,160.5 176.0,162.7 177.2,164.0 C178.5,165.2 179.9,166.8 181.1,167.2 C182.3,167.7 183.2,167.5 184.4,166.7 C185.6,166.0 186.9,163.9 188.2,162.9 C189.4,161.9 190.9,160.5 192.1,160.7 C193.3,160.9 194.2,162.5 195.4,164.0 C196.5,165.4 197.9,168.1 199.2,169.5 C200.5,170.9 201.8,171.7 203.0,172.2 C204.2,172.8 205.2,173.2 206.3,172.8 C207.4,172.3 208.6,170.7 209.6,169.5 C210.6,168.3 211.4,166.8 212.2,165.7 C212.9,164.6 213.4,163.9 214.0,162.9 C214.7,161.9 215.4,160.7 216.1,159.8 C216.8,158.9 217.5,158.0 218.3,157.6 C219.1,157.3 220.0,157.1 220.9,157.6 C221.8,158.2 222.8,159.6 223.7,160.9 C224.7,162.3 225.7,164.2 226.6,165.7 C227.5,167.2 228.2,169.1 229.2,170.1 C230.2,171.1 231.4,171.8 232.4,171.8 C233.5,171.8 234.4,170.8 235.3,170.1 C236.2,169.3 236.9,168.5 237.9,167.4 C238.9,166.4 240.1,164.9 241.2,163.5 C242.3,162.1 243.4,160.4 244.4,159.2 C245.5,157.9 246.6,156.7 247.7,156.1 C248.8,155.5 249.9,155.6 251.0,155.4 C252.1,155.3 253.2,155.3 254.3,155.4 C255.4,155.6 256.6,155.6 257.6,156.1 C258.5,156.6 259.3,157.5 260.2,158.3 C261.1,159.1 262.1,160.3 263.0,160.9 C263.9,161.5 264.9,162.1 265.8,162.0 C266.7,161.9 267.6,161.0 268.4,160.5 C269.2,159.9 270.3,159.0 270.6,158.7" stroke="#c9a227"/></g><rect x="158.7" y="155.1" width="111.5" height="114.2" fill="none" stroke="#1a1a1a" stroke-width="1"/><path d="M181.9,269.3 v-2 M204.9,269.3 v-2 M227.9,269.3 v-2 M250.9,269.3 v-2 M158.7,183.7 h2 M158.7,212.2 h2 M158.7,240.8 h2 " stroke="#1a1a1a" stroke-width="0.7" fill="none"/><text x="158.7" y="277.4" font-size="7.1" text-anchor="middle">0.2</text><text x="178.1" y="277.4" font-size="7.1" text-anchor="middle">0.3</text><text x="202.3" y="277.4" font-size="7.1" text-anchor="middle">0.4</text><text x="226.4" y="277.4" font-size="7.1" text-anchor="middle">0.5</text><text x="250.6" y="277.4" font-size="7.1" text-anchor="middle">0.6</text><text x="269.2" y="277.4" font-size="7.1" text-anchor="middle">0.7</text><text x="156.0" y="157.2" font-size="7.1" text-anchor="end">1.0</text><text x="156.0" y="185.8" font-size="7.1" text-anchor="end">0.9</text><text x="156.0" y="214.3" font-size="7.1" text-anchor="end">0.8</text><text x="156.0" y="242.8" font-size="7.1" text-anchor="end">0.7</text><text x="156.0" y="271.4" font-size="7.1" text-anchor="end">0.6</text><text x="213.1" y="287.2" font-size="7.2" text-anchor="middle">Coherence</text><text transform="translate(144.3,212.2) rotate(-90)" font-size="7.5" style="stroke-width:0.2px" text-anchor="middle">SSIM</text><path d="M227.2,228.2 h6.5" stroke="#3a3a3a" stroke-width="0.8"/><text x="234.8" y="229.7" font-size="4.55">Pivoting Median</text><path d="M227.2,233.9 h6.5" stroke="#e8474c" stroke-width="0.8"/><text x="234.8" y="235.4" font-size="4.55">Goldstein</text><path d="M227.2,239.5 h6.5" stroke="#2277d6" stroke-width="0.8"/><text x="234.8" y="241.0" font-size="4.55">Lee</text><path d="M227.2,245.2 h6.5" stroke="#3cb37c" stroke-width="0.8"/><text x="234.8" y="246.7" font-size="4.55">NL-InSAR</text><path d="M227.2,250.9 h6.5" stroke="#bb88e4" stroke-width="0.8"/><text x="234.8" y="252.4" font-size="4.55">InSAR-BM3D</text><path d="M227.2,256.6 h6.5" stroke="#f3d146" stroke-width="0.8"/><text x="234.8" y="258.1" font-size="4.55">Φ-Net</text><path d="M227.2,262.2 h6.5" stroke="#c9a227" stroke-width="0.8"/><text x="234.8" y="263.7" font-size="4.55">Proposed Method</text></g>
<g><clipPath id="cp12"><rect x="294.8" y="155.1" width="111.5" height="114.2"/></clipPath><path d="M297.3,155.1 V269.3 M299.6,155.1 V269.3 M301.9,155.1 V269.3 M304.2,155.1 V269.3 M306.5,155.1 V269.3 M308.8,155.1 V269.3 M311.1,155.1 V269.3 M313.4,155.1 V269.3 M315.7,155.1 V269.3 M318.0,155.1 V269.3 M320.3,155.1 V269.3 M322.6,155.1 V269.3 M324.9,155.1 V269.3 M327.2,155.1 V269.3 M329.5,155.1 V269.3 M331.8,155.1 V269.3 M334.1,155.1 V269.3 M336.4,155.1 V269.3 M338.7,155.1 V269.3 M341.0,155.1 V269.3 M343.3,155.1 V269.3 M345.6,155.1 V269.3 M347.9,155.1 V269.3 M350.2,155.1 V269.3 M352.5,155.1 V269.3 M354.8,155.1 V269.3 M357.1,155.1 V269.3 M359.4,155.1 V269.3 M361.7,155.1 V269.3 M364.0,155.1 V269.3 M366.3,155.1 V269.3 M368.6,155.1 V269.3 M370.9,155.1 V269.3 M373.2,155.1 V269.3 M375.5,155.1 V269.3 M377.8,155.1 V269.3 M380.1,155.1 V269.3 M382.4,155.1 V269.3 M384.7,155.1 V269.3 M387.0,155.1 V269.3 M389.3,155.1 V269.3 M391.6,155.1 V269.3 M393.9,155.1 V269.3 M396.2,155.1 V269.3 M398.5,155.1 V269.3 M400.8,155.1 V269.3 M403.1,155.1 V269.3 M294.8,169.4 H406.3 M294.8,183.7 H406.3 M294.8,197.9 H406.3 M294.8,212.2 H406.3 M294.8,226.5 H406.3 M294.8,240.8 H406.3 M294.8,255.0 H406.3 " stroke="#f3f2ea" stroke-width="0.4" fill="none"/><g clip-path="url(#cp12)" fill="none" stroke-width="1.05" stroke-linejoin="round" stroke-linecap="round"><path d="M294.8,180.1 C295.3,180.5 296.6,181.9 297.6,182.3 C298.7,182.7 299.8,182.2 300.9,182.7 C302.0,183.2 303.1,185.0 304.2,185.3 C305.3,185.7 306.4,184.6 307.4,184.9 C308.5,185.2 309.8,185.8 310.7,187.1 C311.6,188.4 312.2,190.7 312.9,192.6 C313.6,194.4 314.3,196.4 315.1,198.0 C315.9,199.6 317.0,201.5 317.9,202.4 C318.8,203.3 319.7,203.5 320.6,203.4 C321.4,203.4 322.4,202.8 323.2,201.9 C324.0,201.0 324.6,199.9 325.4,198.0 C326.1,196.1 326.8,192.6 327.5,190.4 C328.3,188.1 329.0,185.9 329.7,184.5 C330.4,183.1 331.1,182.5 331.9,182.1 C332.7,181.6 333.9,181.8 334.7,181.8 C335.6,181.9 336.1,182.6 336.9,182.3 C337.7,182.0 338.8,180.7 339.8,179.9 C340.7,179.1 341.4,178.1 342.4,177.3 C343.3,176.4 344.6,175.6 345.6,174.9 C346.7,174.2 347.6,173.6 348.5,173.1 C349.4,172.7 350.1,172.2 351.1,172.2 C352.1,172.3 353.3,173.4 354.4,173.3 C355.5,173.3 356.5,172.1 357.6,171.8 C358.7,171.5 359.8,171.7 360.9,171.4 C362.0,171.1 363.1,170.7 364.2,170.1 C365.3,169.5 366.4,168.7 367.4,167.9 C368.5,167.1 369.6,165.8 370.7,165.3 C371.8,164.8 372.9,165.0 374.0,164.8 C375.1,164.7 376.2,164.7 377.3,164.2 C378.4,163.7 379.5,162.5 380.6,162.0 C381.6,161.5 382.7,161.2 383.8,160.9 C384.9,160.7 386.0,160.3 387.1,160.5 C388.2,160.7 389.3,161.9 390.4,162.0 C391.5,162.1 392.5,161.0 393.6,160.9 C394.7,160.8 395.8,160.9 396.9,161.3 C398.0,161.8 399.1,163.1 400.2,163.5 C401.3,164.0 402.4,164.4 403.4,164.2 C404.5,163.9 406.2,162.4 406.7,162.0" stroke="#3a3a3a"/><path d="M294.8,202.9 C295.3,203.6 296.6,206.8 297.6,207.3 C298.7,207.7 299.8,206.0 300.9,205.8 C302.0,205.5 303.1,205.5 304.2,205.8 C305.3,206.0 306.5,206.5 307.4,207.3 C308.4,208.1 309.3,209.1 310.1,210.6 C310.9,212.0 311.5,213.8 312.2,216.0 C313.0,218.2 313.7,221.7 314.4,223.6 C315.2,225.6 315.8,226.8 316.6,227.6 C317.5,228.4 318.5,228.7 319.4,228.4 C320.4,228.2 321.4,227.2 322.3,226.2 C323.2,225.3 324.1,224.1 324.9,222.6 C325.7,221.0 326.4,218.8 327.1,217.1 C327.8,215.4 328.5,213.4 329.3,212.3 C330.0,211.2 330.7,210.4 331.4,210.6 C332.2,210.7 332.8,212.1 333.6,213.2 C334.4,214.2 335.4,216.8 336.2,217.1 C337.1,217.4 337.7,215.7 338.4,214.9 C339.2,214.1 339.8,212.8 340.6,212.3 C341.5,211.7 342.5,212.4 343.4,211.6 C344.4,210.9 345.4,209.4 346.3,207.9 C347.2,206.5 348.0,204.2 348.9,202.9 C349.8,201.6 350.6,200.3 351.5,200.1 C352.4,199.9 353.4,201.8 354.4,201.8 C355.3,201.8 356.3,200.5 357.2,200.1 C358.1,199.6 358.8,199.9 359.8,199.2 C360.8,198.5 362.2,197.3 363.1,195.7 C364.0,194.1 364.5,191.9 365.3,189.8 C366.0,187.7 366.6,185.0 367.4,183.3 C368.3,181.6 369.4,180.3 370.3,179.6 C371.2,178.8 371.9,179.3 372.9,178.9 C373.9,178.5 375.1,177.9 376.2,177.4 C377.3,176.8 378.5,175.7 379.4,175.6 C380.4,175.5 381.2,176.4 382.1,176.7 C383.0,177.0 384.0,177.6 384.9,177.4 C385.9,177.1 386.8,175.5 387.8,175.2 C388.7,174.9 389.4,175.3 390.4,175.6 C391.3,176.0 392.5,177.0 393.6,177.4 C394.7,177.7 395.8,177.3 396.9,177.8 C398.0,178.3 399.1,179.4 400.2,180.4 C401.3,181.5 402.4,183.0 403.4,183.9 C404.5,184.9 406.2,185.7 406.7,186.1" stroke="#e8474c"/><path d="M294.8,179.4 C295.3,179.1 296.6,177.8 297.6,177.3 C298.7,176.7 299.8,176.1 300.9,176.2 C302.0,176.3 303.1,177.9 304.2,177.9 C305.3,178.0 306.4,177.0 307.4,176.6 C308.5,176.3 309.7,175.3 310.7,175.8 C311.7,176.2 312.7,177.9 313.6,179.4 C314.5,181.0 315.3,183.6 316.2,184.9 C317.1,186.3 317.9,187.0 318.8,187.5 C319.7,188.1 320.7,188.5 321.6,188.2 C322.6,187.8 323.6,186.4 324.5,185.3 C325.4,184.3 326.3,182.9 327.1,181.6 C327.9,180.4 328.5,178.5 329.3,177.9 C330.1,177.4 331.1,177.9 331.9,178.4 C332.7,178.9 333.3,180.3 334.1,181.0 C334.8,181.7 335.4,182.8 336.2,182.7 C337.1,182.7 338.1,181.5 339.1,180.6 C340.0,179.6 341.0,178.4 341.9,177.3 C342.8,176.1 343.7,174.7 344.6,173.6 C345.4,172.5 346.4,171.7 347.2,170.7 C348.0,169.7 348.6,167.8 349.4,167.4 C350.1,167.1 350.8,167.9 351.5,168.6 C352.3,169.2 352.9,170.5 353.7,171.4 C354.5,172.2 355.6,172.8 356.6,173.6 C357.5,174.4 358.5,175.6 359.4,176.2 C360.3,176.8 361.2,177.6 362.0,177.3 C362.8,176.9 363.5,175.1 364.2,174.0 C364.9,172.9 365.6,171.6 366.4,170.7 C367.2,169.8 368.1,169.2 369.0,168.6 C369.9,167.9 370.8,167.2 371.8,167.0 C372.8,166.8 374.0,167.6 375.1,167.4 C376.2,167.3 377.3,166.7 378.4,166.4 C379.5,166.0 380.5,165.3 381.6,165.3 C382.7,165.3 383.8,166.3 384.9,166.4 C386.0,166.4 387.1,165.6 388.2,165.7 C389.3,165.8 390.4,166.9 391.4,167.0 C392.5,167.1 393.6,166.1 394.7,166.4 C395.8,166.6 396.9,167.9 398.0,168.6 C399.1,169.2 400.2,170.0 401.3,170.1 C402.4,170.2 403.6,169.6 404.6,169.2 C405.5,168.8 406.4,167.7 406.7,167.4" stroke="#2277d6"/><path d="M294.8,168.6 C295.3,168.2 296.6,166.9 297.6,166.4 C298.7,165.8 299.8,165.5 300.9,165.3 C302.0,165.0 303.1,164.8 304.2,164.8 C305.3,164.9 306.4,165.5 307.4,165.7 C308.5,166.0 309.7,165.9 310.7,166.4 C311.7,166.8 312.7,167.8 313.6,168.6 C314.5,169.3 315.2,170.0 316.2,170.7 C317.2,171.5 318.4,172.2 319.4,172.9 C320.5,173.6 321.8,174.6 322.7,175.1 C323.6,175.6 324.1,176.0 324.9,175.8 C325.7,175.5 326.6,174.2 327.5,173.6 C328.4,172.9 329.3,172.0 330.4,171.8 C331.4,171.6 332.5,172.0 333.6,172.2 C334.7,172.5 335.9,173.6 336.9,173.6 C337.9,173.5 338.8,172.4 339.8,171.8 C340.7,171.2 341.4,170.6 342.4,170.1 C343.3,169.5 344.6,169.0 345.6,168.6 C346.7,168.1 347.6,167.9 348.5,167.4 C349.4,167.0 350.1,166.0 351.1,165.7 C352.1,165.4 353.3,165.5 354.4,165.7 C355.5,165.9 356.5,166.5 357.6,167.0 C358.7,167.5 359.8,168.2 360.9,168.6 C362.0,168.9 363.1,169.3 364.2,169.2 C365.3,169.1 366.4,168.4 367.4,167.9 C368.5,167.4 369.6,166.9 370.7,166.4 C371.8,165.9 372.9,165.6 374.0,164.8 C375.1,164.1 376.2,162.7 377.3,162.0 C378.4,161.3 379.5,160.8 380.6,160.5 C381.6,160.1 382.7,160.0 383.8,159.8 C384.9,159.6 386.0,159.3 387.1,159.2 C388.2,159.1 389.3,159.2 390.4,159.2 C391.5,159.1 392.5,158.8 393.6,158.7 C394.7,158.7 395.8,158.8 396.9,158.7 C398.0,158.7 399.1,158.5 400.2,158.3 C401.3,158.1 402.4,157.9 403.4,157.6 C404.5,157.4 406.2,157.1 406.7,157.0" stroke="#3cb37c"/><path d="M294.8,168.6 C295.3,168.4 296.6,168.3 297.6,167.9 C298.7,167.5 299.8,166.7 300.9,166.4 C302.0,166.0 303.1,166.0 304.2,165.7 C305.3,165.5 306.4,165.2 307.4,164.8 C308.5,164.5 309.7,163.4 310.7,163.5 C311.7,163.7 312.7,165.0 313.6,165.7 C314.5,166.4 315.2,167.6 316.2,167.9 C317.2,168.2 318.4,167.8 319.4,167.4 C320.5,167.1 321.7,165.7 322.7,165.7 C323.7,165.7 324.4,166.7 325.4,167.4 C326.3,168.2 327.2,169.5 328.2,170.1 C329.1,170.6 330.1,170.3 331.0,170.7 C331.9,171.2 332.8,172.8 333.6,172.9 C334.5,173.0 335.3,172.0 336.2,171.4 C337.2,170.8 338.1,169.8 339.1,169.2 C340.1,168.6 341.4,167.7 342.4,167.9 C343.3,168.0 344.2,169.4 345.0,170.1 C345.8,170.7 346.4,172.1 347.2,171.8 C347.9,171.6 348.5,169.6 349.4,168.6 C350.2,167.5 351.2,166.3 352.2,165.7 C353.2,165.1 354.4,165.2 355.4,164.8 C356.5,164.5 357.6,163.9 358.7,163.5 C359.8,163.2 360.9,163.0 362.0,162.7 C363.1,162.3 364.3,161.8 365.3,161.3 C366.3,160.9 367.2,160.2 368.1,159.8 C369.0,159.5 369.7,159.1 370.7,159.2 C371.7,159.3 372.9,160.4 374.0,160.5 C375.1,160.6 376.2,160.1 377.3,159.8 C378.4,159.5 379.5,158.8 380.6,158.7 C381.6,158.6 382.7,159.2 383.8,159.2 C384.9,159.2 386.0,158.9 387.1,158.7 C388.2,158.6 389.3,158.2 390.4,158.3 C391.5,158.4 392.5,159.1 393.6,159.2 C394.7,159.2 395.8,158.8 396.9,158.7 C398.0,158.7 399.1,158.8 400.2,158.7 C401.3,158.7 402.4,158.5 403.4,158.3 C404.5,158.1 406.2,157.7 406.7,157.6" stroke="#bb88e4"/><path d="M294.8,164.8 C295.3,165.0 296.6,165.6 297.6,165.7 C298.7,165.8 299.8,165.5 300.9,165.3 C302.0,165.0 303.1,164.5 304.2,164.2 C305.3,163.9 306.4,163.4 307.4,163.5 C308.5,163.6 309.6,164.2 310.7,164.8 C311.8,165.5 312.9,166.7 314.0,167.4 C315.1,168.2 316.2,168.8 317.3,169.2 C318.4,169.6 319.5,169.7 320.6,169.6 C321.6,169.5 322.7,169.0 323.8,168.6 C324.9,168.1 326.0,167.4 327.1,167.0 C328.2,166.7 329.3,166.6 330.4,166.4 C331.5,166.1 332.5,165.7 333.6,165.7 C334.7,165.7 335.8,166.1 336.9,166.4 C338.0,166.6 339.1,167.0 340.2,167.0 C341.3,167.0 342.4,166.4 343.4,166.4 C344.5,166.4 345.6,167.0 346.7,167.0 C347.8,167.0 348.9,166.6 350.0,166.4 C351.1,166.1 352.2,166.0 353.3,165.7 C354.4,165.5 355.5,165.1 356.6,164.8 C357.6,164.6 358.7,164.5 359.8,164.2 C360.9,163.8 362.0,163.0 363.1,162.7 C364.2,162.3 365.3,162.3 366.4,162.0 C367.5,161.7 368.5,161.2 369.6,160.9 C370.7,160.7 371.8,160.7 372.9,160.5 C374.0,160.3 375.1,159.9 376.2,159.8 C377.3,159.7 378.4,159.9 379.4,159.8 C380.5,159.7 381.6,159.3 382.7,159.2 C383.8,159.1 384.9,159.2 386.0,159.2 C387.1,159.1 388.2,158.8 389.3,158.7 C390.4,158.7 391.5,158.8 392.6,158.7 C393.6,158.7 394.7,158.4 395.8,158.3 C396.9,158.2 398.0,158.4 399.1,158.3 C400.2,158.2 401.1,157.9 402.4,157.6 C403.6,157.4 406.0,157.1 406.7,157.0" stroke="#f3d146"/><path d="M294.8,158.3 C295.3,158.7 296.6,159.7 297.6,160.5 C298.7,161.2 299.8,162.1 300.9,162.7 C302.0,163.2 303.1,163.3 304.2,163.5 C305.3,163.8 306.4,163.9 307.4,164.2 C308.5,164.5 309.6,164.8 310.7,165.3 C311.8,165.7 312.9,166.6 314.0,167.0 C315.1,167.5 316.2,167.9 317.3,167.9 C318.4,167.9 319.6,167.6 320.6,167.0 C321.5,166.4 322.4,165.3 323.2,164.2 C324.0,163.1 324.5,161.5 325.4,160.5 C326.2,159.5 327.2,158.8 328.2,158.3 C329.2,157.8 330.4,157.6 331.4,157.6 C332.5,157.7 333.6,158.3 334.7,158.7 C335.8,159.2 336.9,159.7 338.0,160.5 C339.1,161.3 340.2,162.5 341.3,163.5 C342.4,164.5 343.6,165.7 344.6,166.4 C345.5,167.0 346.3,167.6 347.2,167.4 C348.1,167.3 349.0,166.4 350.0,165.7 C351.0,165.0 352.2,164.0 353.3,163.1 C354.4,162.2 355.5,161.3 356.6,160.5 C357.6,159.7 358.7,158.9 359.8,158.3 C360.9,157.7 362.0,157.3 363.1,157.0 C364.2,156.7 365.3,156.6 366.4,156.6 C367.5,156.6 368.5,156.8 369.6,157.0 C370.7,157.2 371.8,157.4 372.9,157.6 C374.0,157.9 375.1,158.1 376.2,158.3 C377.3,158.5 378.4,158.7 379.4,158.7 C380.5,158.7 381.6,158.4 382.7,158.3 C383.8,158.2 384.9,158.4 386.0,158.3 C387.1,158.2 388.2,158.0 389.3,157.8 C390.4,157.7 391.5,157.7 392.6,157.6 C393.6,157.5 394.7,157.3 395.8,157.2 C396.9,157.1 398.0,157.1 399.1,157.0 C400.2,156.9 401.1,156.7 402.4,156.6 C403.6,156.4 406.0,156.2 406.7,156.1" stroke="#c9a227"/></g><rect x="294.8" y="155.1" width="111.5" height="114.2" fill="none" stroke="#1a1a1a" stroke-width="1"/><path d="M318.0,269.3 v-2 M341.0,269.3 v-2 M364.0,269.3 v-2 M387.0,269.3 v-2 M294.8,183.7 h2 M294.8,212.2 h2 M294.8,240.8 h2 " stroke="#1a1a1a" stroke-width="0.7" fill="none"/><text x="294.8" y="277.4" font-size="7.1" text-anchor="middle">0.2</text><text x="314.2" y="277.4" font-size="7.1" text-anchor="middle">0.3</text><text x="338.4" y="277.4" font-size="7.1" text-anchor="middle">0.4</text><text x="362.5" y="277.4" font-size="7.1" text-anchor="middle">0.5</text><text x="386.7" y="277.4" font-size="7.1" text-anchor="middle">0.6</text><text x="405.3" y="277.4" font-size="7.1" text-anchor="middle">0.7</text><text x="292.1" y="157.2" font-size="7.1" text-anchor="end">1.0</text><text x="292.1" y="185.8" font-size="7.1" text-anchor="end">0.9</text><text x="292.1" y="214.3" font-size="7.1" text-anchor="end">0.8</text><text x="292.1" y="242.8" font-size="7.1" text-anchor="end">0.7</text><text x="292.1" y="271.4" font-size="7.1" text-anchor="end">0.6</text><text x="349.2" y="287.2" font-size="7.2" text-anchor="middle">Coherence</text><text transform="translate(280.4,212.2) rotate(-90)" font-size="7.5" style="stroke-width:0.2px" text-anchor="middle">SSIM</text><path d="M362.0,228.2 h6.5" stroke="#3a3a3a" stroke-width="0.8"/><text x="369.6" y="229.7" font-size="4.55">Pivoting Median</text><path d="M362.0,233.9 h6.5" stroke="#e8474c" stroke-width="0.8"/><text x="369.6" y="235.4" font-size="4.55">Goldstein</text><path d="M362.0,239.5 h6.5" stroke="#2277d6" stroke-width="0.8"/><text x="369.6" y="241.0" font-size="4.55">Lee</text><path d="M362.0,245.2 h6.5" stroke="#3cb37c" stroke-width="0.8"/><text x="369.6" y="246.7" font-size="4.55">NL-InSAR</text><path d="M362.0,250.9 h6.5" stroke="#bb88e4" stroke-width="0.8"/><text x="369.6" y="252.4" font-size="4.55">InSAR-BM3D</text><path d="M362.0,256.6 h6.5" stroke="#f3d146" stroke-width="0.8"/><text x="369.6" y="258.1" font-size="4.55">Φ-Net</text><path d="M362.0,262.2 h6.5" stroke="#c9a227" stroke-width="0.8"/><text x="369.6" y="263.7" font-size="4.55">Proposed Method</text></g>
<g><clipPath id="cp13"><rect x="430.9" y="155.1" width="111.5" height="114.2"/></clipPath><path d="M433.4,155.1 V269.3 M435.7,155.1 V269.3 M438.0,155.1 V269.3 M440.3,155.1 V269.3 M442.6,155.1 V269.3 M444.9,155.1 V269.3 M447.2,155.1 V269.3 M449.5,155.1 V269.3 M451.8,155.1 V269.3 M454.1,155.1 V269.3 M456.4,155.1 V269.3 M458.7,155.1 V269.3 M461.0,155.1 V269.3 M463.3,155.1 V269.3 M465.6,155.1 V269.3 M467.9,155.1 V269.3 M470.2,155.1 V269.3 M472.5,155.1 V269.3 M474.8,155.1 V269.3 M477.1,155.1 V269.3 M479.4,155.1 V269.3 M481.7,155.1 V269.3 M484.0,155.1 V269.3 M486.3,155.1 V269.3 M488.6,155.1 V269.3 M490.9,155.1 V269.3 M493.2,155.1 V269.3 M495.5,155.1 V269.3 M497.8,155.1 V269.3 M500.1,155.1 V269.3 M502.4,155.1 V269.3 M504.7,155.1 V269.3 M507.0,155.1 V269.3 M509.3,155.1 V269.3 M511.6,155.1 V269.3 M513.9,155.1 V269.3 M516.2,155.1 V269.3 M518.5,155.1 V269.3 M520.8,155.1 V269.3 M523.1,155.1 V269.3 M525.4,155.1 V269.3 M527.7,155.1 V269.3 M530.0,155.1 V269.3 M532.3,155.1 V269.3 M534.6,155.1 V269.3 M536.9,155.1 V269.3 M539.2,155.1 V269.3 M430.9,169.4 H542.4 M430.9,183.7 H542.4 M430.9,197.9 H542.4 M430.9,212.2 H542.4 M430.9,226.5 H542.4 M430.9,240.8 H542.4 M430.9,255.0 H542.4 " stroke="#f3f2ea" stroke-width="0.4" fill="none"/><g clip-path="url(#cp13)" fill="none" stroke-width="1.05" stroke-linejoin="round" stroke-linecap="round"><path d="M430.9,215.4 C431.3,214.9 432.3,213.5 433.1,212.2 C433.9,210.9 434.9,209.3 435.7,207.8 C436.6,206.4 437.4,204.4 438.4,203.4 C439.3,202.5 440.3,202.9 441.2,202.4 C442.0,201.8 442.6,201.6 443.4,200.2 C444.1,198.7 444.8,196.2 445.6,193.6 C446.3,191.1 447.0,187.3 447.7,184.9 C448.5,182.5 449.3,180.5 449.9,179.4 C450.5,178.4 450.9,177.8 451.4,178.4 C452.0,178.9 452.5,180.9 453.2,182.7 C453.8,184.5 454.6,187.1 455.4,189.3 C456.1,191.5 456.8,194.1 457.6,195.8 C458.4,197.5 459.3,198.5 460.2,199.5 C461.1,200.5 462.2,201.6 463.0,201.9 C463.8,202.2 464.5,202.3 465.2,201.3 C465.9,200.3 466.6,198.5 467.4,195.8 C468.1,193.1 468.8,189.1 469.6,184.9 C470.3,180.7 471.1,173.8 471.7,170.7 C472.3,167.6 472.6,166.7 473.2,166.4 C473.9,166.0 474.6,167.5 475.4,168.6 C476.3,169.6 477.3,171.5 478.3,172.9 C479.2,174.4 480.2,175.5 481.1,177.3 C482.0,179.1 482.9,181.3 483.7,183.8 C484.5,186.3 485.2,191.2 485.9,192.1 C486.6,193.0 487.3,190.7 488.1,189.3 C488.9,187.9 489.8,185.4 490.7,183.8 C491.6,182.3 492.6,180.8 493.6,179.9 C494.5,179.0 495.5,179.5 496.4,178.4 C497.3,177.2 498.1,174.5 499.0,172.9 C499.9,171.3 500.7,169.2 501.6,169.0 C502.5,168.8 503.6,170.8 504.4,171.8 C505.3,172.8 505.8,173.8 506.6,175.1 C507.5,176.4 508.5,178.1 509.5,179.4 C510.5,180.8 511.5,182.4 512.5,183.4 C513.5,184.4 514.4,185.3 515.4,185.6 C516.3,185.8 517.3,185.4 518.2,184.9 C519.1,184.4 519.8,183.3 520.8,182.7 C521.8,182.1 523.1,181.6 524.1,181.2 C525.1,180.8 526.1,180.3 526.9,180.6 C527.8,180.8 528.4,181.5 529.1,182.7 C529.8,184.0 530.6,186.2 531.3,188.2 C532.0,190.2 532.7,192.5 533.5,194.7 C534.2,196.9 534.9,199.1 535.6,201.3 C536.4,203.5 537.1,205.5 537.8,207.8 C538.6,210.2 539.2,212.2 540.0,215.4 C540.8,218.7 542.2,225.4 542.6,227.4" stroke="#3a3a3a"/><path d="M430.9,217.6 C431.4,217.5 432.7,217.3 433.6,216.6 C434.4,215.8 435.3,214.4 436.2,213.3 C437.1,212.2 438.1,210.9 439.0,210.0 C439.9,209.1 440.9,208.7 441.8,207.8 C442.7,206.9 443.6,205.7 444.4,204.6 C445.3,203.4 446.2,201.8 447.1,200.8 C448.0,199.9 449.1,199.1 449.9,199.1 C450.7,199.1 451.4,199.4 452.1,200.8 C452.8,202.3 453.5,204.8 454.3,207.8 C455.0,210.8 455.7,215.1 456.4,218.7 C457.2,222.4 457.9,226.0 458.6,229.6 C459.4,233.3 460.1,237.8 460.8,240.6 C461.5,243.3 462.3,246.0 463.0,246.0 C463.7,246.0 464.5,243.6 465.2,240.6 C465.9,237.5 466.6,232.5 467.4,227.4 C468.1,222.4 468.8,215.3 469.6,210.0 C470.3,204.7 471.0,199.1 471.7,195.8 C472.5,192.5 473.1,191.2 473.9,190.4 C474.7,189.5 475.8,190.3 476.8,190.8 C477.7,191.3 478.5,192.6 479.4,193.6 C480.2,194.7 481.2,195.8 482.0,196.9 C482.8,198.0 483.4,198.7 484.2,200.2 C484.9,201.6 485.6,205.3 486.4,205.6 C487.1,206.0 487.7,203.6 488.5,202.4 C489.4,201.1 490.4,199.1 491.4,198.0 C492.3,196.9 493.3,196.9 494.2,195.8 C495.1,194.7 495.9,193.3 496.8,191.4 C497.7,189.6 498.6,186.5 499.4,184.9 C500.2,183.3 500.8,181.9 501.6,181.6 C502.5,181.4 503.5,182.7 504.4,183.4 C505.4,184.1 506.4,185.3 507.3,186.0 C508.2,186.7 508.9,187.4 509.9,187.8 C510.9,188.1 512.1,188.3 513.2,188.2 C514.3,188.1 515.4,187.5 516.5,187.1 C517.5,186.7 518.6,186.5 519.7,186.0 C520.8,185.5 521.9,184.7 523.0,184.2 C524.1,183.8 525.2,183.6 526.3,183.4 C527.4,183.1 528.5,182.8 529.5,182.7 C530.6,182.6 531.7,182.6 532.8,182.7 C533.9,182.8 535.0,183.0 536.1,183.4 C537.2,183.7 538.3,184.1 539.4,184.9 C540.5,185.7 542.1,187.6 542.6,188.2" stroke="#e8474c"/><path d="M430.9,202.4 C431.3,201.8 432.4,200.0 433.1,199.1 C433.8,198.2 434.6,197.5 435.3,196.9 C436.0,196.3 436.7,195.7 437.5,195.4 C438.2,195.0 438.9,194.5 439.6,194.7 C440.4,195.0 441.1,197.1 441.8,196.9 C442.6,196.7 443.3,195.3 444.0,193.6 C444.7,192.0 445.5,189.1 446.2,187.1 C446.9,185.1 447.7,183.1 448.4,181.6 C449.1,180.2 449.9,178.8 450.6,178.4 C451.2,177.9 451.6,177.7 452.1,178.8 C452.6,179.9 453.1,182.1 453.6,184.9 C454.2,187.7 454.7,192.0 455.4,195.8 C456.0,199.6 456.8,204.5 457.6,207.8 C458.3,211.1 459.0,213.6 459.7,215.4 C460.5,217.3 461.2,218.3 461.9,218.7 C462.6,219.2 463.4,219.0 464.1,218.1 C464.7,217.2 465.3,215.9 465.8,213.3 C466.4,210.7 467.0,206.4 467.6,202.4 C468.2,198.4 468.7,193.1 469.3,189.3 C469.9,185.5 470.7,181.8 471.3,179.4 C471.9,177.1 472.3,176.0 472.8,175.1 C473.3,174.2 473.7,173.9 474.1,174.0 C474.6,174.1 474.9,174.9 475.4,175.5 C476.0,176.1 476.8,176.7 477.6,177.5 C478.5,178.3 479.5,179.2 480.4,180.1 C481.4,181.1 482.4,181.5 483.3,183.2 C484.2,184.9 485.3,188.9 485.9,190.4 C486.6,191.8 486.6,192.1 487.2,191.9 C487.8,191.7 488.7,190.0 489.4,189.1 C490.1,188.1 490.9,186.8 491.6,186.4 C492.2,186.1 492.7,186.5 493.2,186.9 C493.8,187.2 494.4,188.3 494.9,188.6 C495.3,189.0 495.5,189.4 495.9,189.1 C496.4,188.7 497.1,187.6 497.7,186.4 C498.2,185.3 498.7,183.3 499.2,182.0 C499.8,180.6 500.5,179.0 501.0,178.2 C501.4,177.3 501.7,177.0 502.1,177.1 C502.4,177.1 502.7,177.8 503.1,178.6 C503.6,179.4 504.1,181.1 504.7,182.0 C505.2,182.8 505.8,183.0 506.4,183.6 C507.0,184.2 507.6,185.1 508.2,185.8 C508.7,186.5 509.1,187.4 509.7,188.0 C510.3,188.5 511.2,188.6 511.9,189.1 C512.5,189.5 513.1,190.3 513.6,190.8 C514.2,191.3 514.5,191.8 515.1,192.3 C515.8,192.8 516.6,193.7 517.3,193.8 C518.1,194.0 518.9,193.5 519.7,193.2 C520.6,192.9 521.6,192.5 522.4,191.9 C523.1,191.3 523.5,190.4 524.1,189.7 C524.6,189.1 525.1,188.4 525.6,188.0 C526.2,187.5 526.9,187.4 527.4,186.9 C527.8,186.3 528.1,185.3 528.5,184.7 C528.8,184.1 529.2,183.2 529.5,183.2 C529.9,183.2 530.2,184.1 530.6,184.7 C531.1,185.3 531.5,186.4 532.2,186.9 C532.8,187.3 533.6,187.2 534.4,187.5 C535.1,187.8 535.9,188.2 536.5,188.6 C537.2,189.1 537.7,189.6 538.3,190.2 C538.9,190.7 539.3,191.1 540.0,191.9 C540.7,192.7 542.2,194.3 542.6,194.7" stroke="#2277d6"/><path d="M430.9,198.4 C431.3,198.7 432.4,199.3 433.1,199.8 C433.8,200.2 434.6,201.4 435.3,201.3 C436.0,201.2 436.7,199.8 437.5,199.1 C438.2,198.4 438.9,197.5 439.6,196.9 C440.4,196.3 441.1,196.1 441.8,195.4 C442.6,194.7 443.3,193.9 444.0,192.6 C444.7,191.2 445.5,189.1 446.2,187.1 C446.9,185.1 447.7,182.4 448.4,180.6 C449.1,178.7 449.9,176.5 450.6,175.8 C451.2,175.0 451.6,175.0 452.1,176.2 C452.6,177.3 453.1,179.8 453.6,182.7 C454.2,185.6 454.7,189.3 455.4,193.6 C456.0,198.0 456.8,204.2 457.6,208.9 C458.3,213.6 459.0,218.7 459.7,222.0 C460.5,225.3 461.2,227.5 461.9,228.6 C462.6,229.6 463.4,229.6 464.1,228.6 C464.7,227.5 465.3,225.6 465.8,222.0 C466.4,218.4 467.0,211.8 467.6,206.7 C468.2,201.6 468.7,196.2 469.3,191.4 C469.9,186.7 470.7,181.6 471.3,178.4 C471.9,175.1 472.5,173.2 473.0,171.8 C473.6,170.5 473.9,170.2 474.6,170.3 C475.2,170.4 476.0,171.6 476.8,172.5 C477.5,173.4 478.2,174.8 478.9,175.8 C479.7,176.7 480.4,177.1 481.1,177.9 C481.8,178.7 482.5,179.4 483.3,180.6 C484.1,181.7 485.1,184.5 485.9,184.9 C486.7,185.3 487.3,183.8 488.1,182.7 C488.9,181.6 489.8,179.5 490.7,178.4 C491.6,177.3 492.6,176.6 493.6,176.2 C494.5,175.7 495.5,176.5 496.4,175.8 C497.3,175.0 498.1,173.0 499.0,171.8 C499.9,170.6 500.8,168.9 501.6,168.6 C502.4,168.2 503.0,169.1 503.8,169.6 C504.6,170.2 505.7,171.2 506.6,171.8 C507.6,172.5 508.5,172.9 509.5,173.6 C510.5,174.2 511.5,175.1 512.5,175.8 C513.5,176.4 514.4,177.2 515.4,177.3 C516.3,177.3 517.3,176.7 518.2,176.2 C519.1,175.6 519.8,174.7 520.8,174.0 C521.8,173.3 523.1,172.4 524.1,171.8 C525.1,171.3 526.0,170.7 526.9,170.7 C527.8,170.7 528.7,171.3 529.5,171.8 C530.4,172.4 531.3,173.1 532.2,174.0 C533.1,174.9 534.1,176.2 535.0,177.3 C535.9,178.4 536.9,179.6 537.8,180.6 C538.7,181.5 539.7,181.8 540.5,182.7 C541.2,183.6 542.3,185.5 542.6,186.0" stroke="#3cb37c"/><path d="M430.9,179.4 C431.4,179.3 432.8,178.8 433.6,178.4 C434.4,177.9 435.0,176.7 435.7,176.6 C436.5,176.5 437.3,177.5 437.9,177.9 C438.6,178.4 439.0,179.6 439.6,179.4 C440.3,179.3 441.1,177.5 441.8,177.3 C442.6,177.0 443.3,178.2 444.0,177.9 C444.7,177.7 445.5,176.8 446.2,175.8 C446.9,174.7 447.7,173.2 448.4,171.8 C449.1,170.4 449.9,168.4 450.6,167.4 C451.2,166.5 451.7,166.0 452.3,166.4 C452.9,166.7 453.4,167.6 454.1,169.6 C454.7,171.6 455.5,175.5 456.2,178.4 C457.0,181.3 457.7,184.9 458.4,187.1 C459.2,189.3 460.1,190.6 460.8,191.4 C461.6,192.3 462.3,192.2 463.0,192.1 C463.7,192.0 464.5,192.0 465.2,191.0 C465.9,190.0 466.6,188.5 467.4,186.0 C468.1,183.5 468.8,179.3 469.6,176.2 C470.3,173.1 471.1,169.3 471.7,167.4 C472.3,165.6 472.6,165.1 473.2,165.3 C473.9,165.5 474.6,167.5 475.4,168.6 C476.3,169.6 477.3,171.0 478.3,171.8 C479.3,172.7 480.6,172.8 481.6,173.6 C482.5,174.3 483.3,175.9 484.2,176.2 C485.1,176.4 486.1,175.6 487.0,175.1 C487.9,174.5 488.9,173.0 489.8,172.9 C490.7,172.8 491.6,174.0 492.4,174.4 C493.3,174.9 494.2,176.0 495.1,175.8 C496.0,175.5 497.0,174.0 497.9,172.9 C498.9,171.8 499.8,169.9 500.8,169.2 C501.7,168.5 502.5,168.3 503.4,168.6 C504.2,168.8 505.1,170.5 506.0,170.7 C506.9,171.0 507.9,170.6 508.8,170.1 C509.8,169.5 510.7,168.1 511.6,167.4 C512.6,166.8 513.4,166.4 514.3,166.4 C515.1,166.3 516.0,166.4 516.9,167.0 C517.8,167.6 518.8,169.0 519.7,170.1 C520.7,171.2 521.7,173.1 522.6,173.6 C523.5,174.0 524.3,173.2 525.2,172.9 C526.1,172.6 526.9,171.6 527.8,171.8 C528.7,172.0 529.7,173.1 530.6,174.0 C531.6,174.9 532.6,176.5 533.5,177.3 C534.4,178.1 535.1,178.5 536.1,178.8 C537.1,179.1 538.3,178.7 539.4,178.8 C540.5,178.9 542.1,179.3 542.6,179.4" stroke="#bb88e4"/><path d="M430.9,192.6 C431.4,192.4 432.7,192.3 433.6,191.9 C434.4,191.5 435.3,190.9 436.2,190.4 C437.1,189.9 438.1,189.4 439.0,188.8 C439.9,188.3 440.9,187.7 441.8,187.1 C442.7,186.4 443.6,186.0 444.4,184.9 C445.2,183.8 445.9,182.2 446.6,180.6 C447.4,178.9 448.2,176.5 448.8,175.1 C449.5,173.6 450.0,172.2 450.6,171.8 C451.1,171.5 451.6,171.8 452.1,172.9 C452.6,174.0 453.0,175.6 453.6,178.4 C454.2,181.1 455.1,185.3 455.8,189.3 C456.5,193.3 457.3,198.4 458.0,202.4 C458.7,206.4 459.4,211.0 460.2,213.3 C460.9,215.5 461.7,215.6 462.4,215.9 C463.0,216.2 463.4,216.5 464.1,215.0 C464.7,213.5 465.5,211.0 466.3,206.7 C467.0,202.4 467.7,194.7 468.4,189.3 C469.2,183.8 470.0,177.1 470.6,174.0 C471.3,170.9 471.7,170.9 472.4,170.7 C473.0,170.5 473.8,172.1 474.6,172.9 C475.4,173.7 476.2,174.8 477.2,175.8 C478.2,176.7 479.4,177.3 480.4,178.4 C481.5,179.5 482.4,180.8 483.3,182.3 C484.2,183.7 485.1,186.5 485.9,187.1 C486.7,187.7 487.3,186.7 488.1,186.0 C488.9,185.3 489.8,183.6 490.7,182.7 C491.6,181.8 492.6,181.3 493.6,180.6 C494.5,179.8 495.5,179.4 496.4,178.4 C497.3,177.3 498.1,175.7 499.0,174.4 C499.9,173.2 500.8,171.2 501.6,170.7 C502.4,170.3 503.0,171.1 503.8,171.8 C504.6,172.5 505.7,174.1 506.6,175.1 C507.6,176.1 508.5,177.1 509.5,177.9 C510.5,178.8 511.5,179.9 512.5,180.1 C513.5,180.4 514.4,179.8 515.4,179.4 C516.3,179.1 517.2,178.3 518.2,177.9 C519.2,177.6 520.3,177.2 521.2,177.3 C522.2,177.3 523.1,178.0 524.1,178.4 C525.0,178.7 525.9,179.0 526.9,179.4 C527.9,179.9 529.0,180.4 530.0,181.0 C531.0,181.5 531.8,182.3 532.8,182.7 C533.8,183.2 535.0,183.3 536.1,183.8 C537.2,184.4 538.3,184.9 539.4,186.0 C540.5,187.1 542.1,189.6 542.6,190.4" stroke="#f3d146"/><path d="M430.9,171.8 C431.5,171.8 433.5,171.9 434.6,171.8 C435.8,171.7 436.8,171.6 437.9,171.4 C439.0,171.2 440.1,171.1 441.2,170.7 C442.3,170.4 443.5,169.9 444.4,169.2 C445.4,168.5 446.2,167.2 447.1,166.4 C448.0,165.5 449.2,164.4 449.9,164.2 C450.6,163.9 450.8,164.1 451.4,164.8 C452.1,165.6 452.9,166.7 453.6,168.6 C454.3,170.4 455.1,173.3 455.8,176.2 C456.5,179.1 457.3,182.9 458.0,186.0 C458.7,189.1 459.5,192.7 460.2,194.7 C460.8,196.8 461.4,197.6 461.9,198.2 C462.5,198.9 462.9,198.9 463.5,198.7 C464.1,198.6 465.0,198.1 465.7,197.1 C466.4,196.1 467.2,194.3 467.9,192.7 C468.6,191.1 469.5,188.5 470.1,187.2 C470.6,185.9 470.8,186.4 471.2,185.0 C471.6,183.6 472.4,181.1 472.7,179.0 C473.1,176.9 473.2,173.8 473.4,172.5 C473.7,171.3 473.8,171.3 474.2,171.4 C474.6,171.6 475.1,173.1 475.6,173.6 C476.2,174.1 476.8,174.6 477.5,174.4 C478.1,174.2 478.8,173.1 479.6,172.5 C480.5,172.0 481.7,171.1 482.6,171.1 C483.4,171.1 484.0,171.9 484.7,172.5 C485.5,173.2 486.2,174.6 486.9,175.1 C487.6,175.6 488.4,175.8 489.1,175.5 C489.8,175.1 490.6,173.6 491.3,172.9 C492.0,172.2 492.7,171.6 493.5,171.4 C494.2,171.3 494.9,172.5 495.6,172.2 C496.4,171.9 497.1,170.4 497.8,169.6 C498.5,168.8 499.3,168.0 500.0,167.4 C500.7,166.9 501.5,166.3 502.3,166.4 C503.0,166.4 503.6,167.2 504.4,167.9 C505.3,168.6 506.4,170.1 507.3,170.7 C508.2,171.4 508.9,171.5 509.9,171.8 C510.9,172.2 512.1,172.5 513.2,172.9 C514.3,173.3 515.4,174.1 516.5,174.4 C517.5,174.8 518.6,174.9 519.7,175.1 C520.8,175.3 521.9,175.5 523.0,175.8 C524.1,176.0 525.2,176.2 526.3,176.6 C527.4,177.1 528.5,177.8 529.5,178.4 C530.6,178.9 531.7,179.6 532.8,180.1 C533.9,180.7 535.0,181.1 536.1,181.6 C537.2,182.1 538.3,182.3 539.4,183.2 C540.5,184.1 542.1,186.4 542.6,187.1" stroke="#c9a227"/></g><rect x="430.9" y="155.1" width="111.5" height="114.2" fill="none" stroke="#1a1a1a" stroke-width="1"/><path d="M454.1,269.3 v-2 M477.1,269.3 v-2 M500.1,269.3 v-2 M523.1,269.3 v-2 M430.9,183.7 h2 M430.9,212.2 h2 M430.9,240.8 h2 " stroke="#1a1a1a" stroke-width="0.7" fill="none"/><text x="430.9" y="277.4" font-size="7.1" text-anchor="middle">0.2</text><text x="450.3" y="277.4" font-size="7.1" text-anchor="middle">0.3</text><text x="474.5" y="277.4" font-size="7.1" text-anchor="middle">0.4</text><text x="498.6" y="277.4" font-size="7.1" text-anchor="middle">0.5</text><text x="522.8" y="277.4" font-size="7.1" text-anchor="middle">0.6</text><text x="541.4" y="277.4" font-size="7.1" text-anchor="middle">0.7</text><text x="428.2" y="157.2" font-size="7.1" text-anchor="end">1.0</text><text x="428.2" y="185.8" font-size="7.1" text-anchor="end">0.9</text><text x="428.2" y="214.3" font-size="7.1" text-anchor="end">0.8</text><text x="428.2" y="242.8" font-size="7.1" text-anchor="end">0.7</text><text x="428.2" y="271.4" font-size="7.1" text-anchor="end">0.6</text><text x="485.3" y="287.2" font-size="7.2" text-anchor="middle">Coherence</text><text transform="translate(416.5,212.2) rotate(-90)" font-size="7.5" style="stroke-width:0.2px" text-anchor="middle">SSIM</text><path d="M496.8,228.2 h6.5" stroke="#3a3a3a" stroke-width="0.8"/><text x="504.4" y="229.7" font-size="4.55">Pivoting Median</text><path d="M496.8,233.9 h6.5" stroke="#e8474c" stroke-width="0.8"/><text x="504.4" y="235.4" font-size="4.55">Goldstein</text><path d="M496.8,239.5 h6.5" stroke="#2277d6" stroke-width="0.8"/><text x="504.4" y="241.0" font-size="4.55">Lee</text><path d="M496.8,245.2 h6.5" stroke="#3cb37c" stroke-width="0.8"/><text x="504.4" y="246.7" font-size="4.55">NL-InSAR</text><path d="M496.8,250.9 h6.5" stroke="#bb88e4" stroke-width="0.8"/><text x="504.4" y="252.4" font-size="4.55">InSAR-BM3D</text><path d="M496.8,256.6 h6.5" stroke="#f3d146" stroke-width="0.8"/><text x="504.4" y="258.1" font-size="4.55">Φ-Net</text><path d="M496.8,262.2 h6.5" stroke="#c9a227" stroke-width="0.8"/><text x="504.4" y="263.7" font-size="4.55">Proposed Method</text></g>
</svg></body></html>
